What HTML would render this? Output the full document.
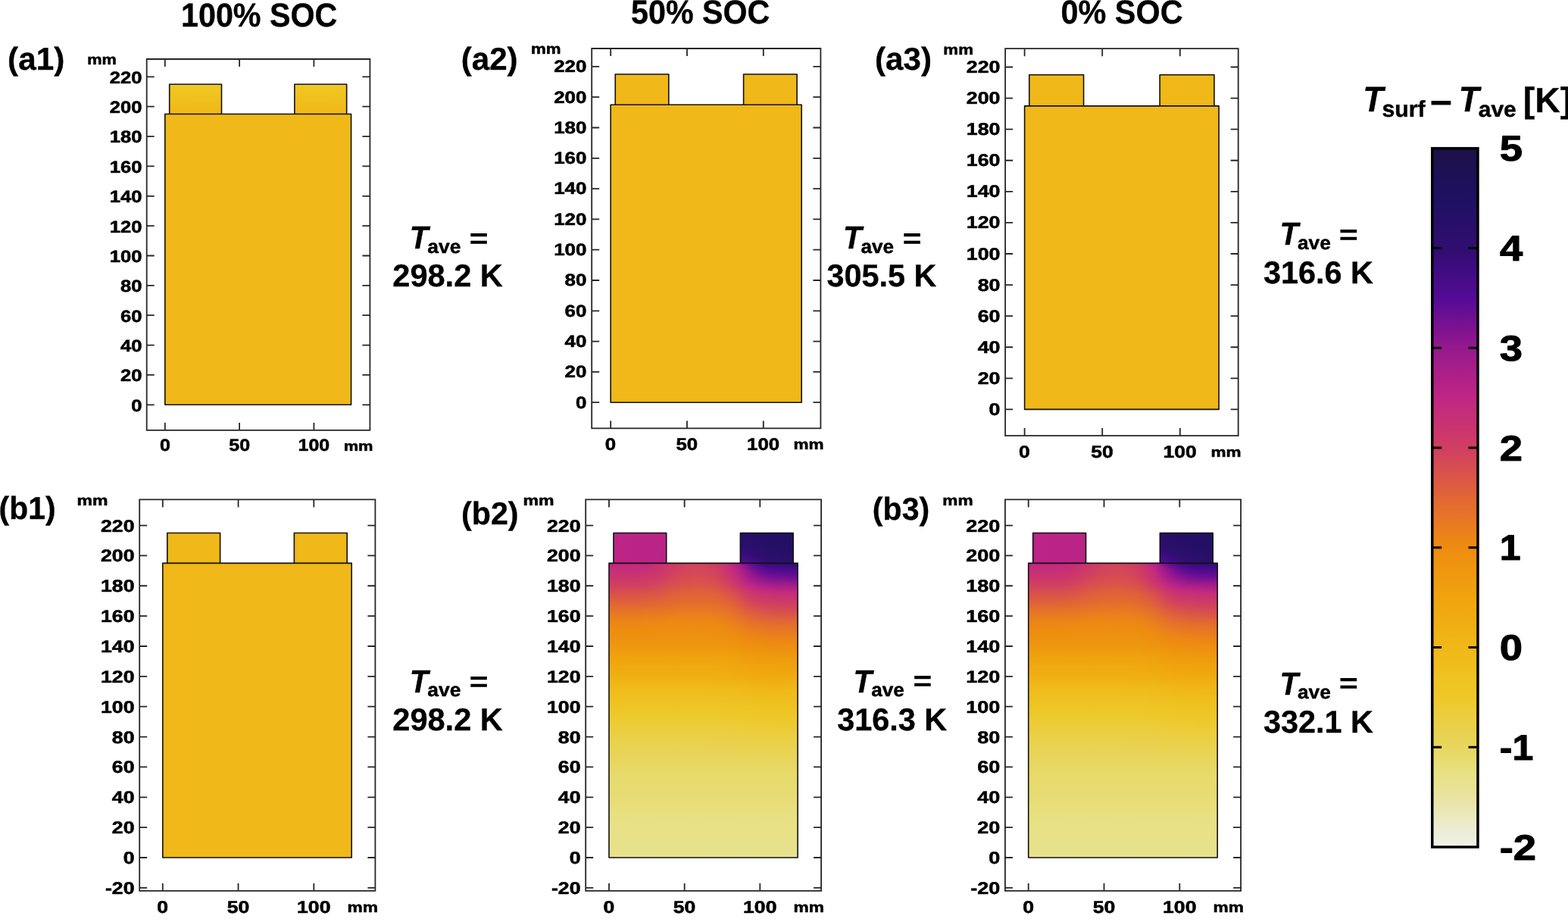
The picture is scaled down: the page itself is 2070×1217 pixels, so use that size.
<!DOCTYPE html>
<html lang="en">
<head>
<meta charset="utf-8">
<title>Surface temperature deviation at 100%, 50% and 0% SOC</title>
<style>
html,body{margin:0;padding:0;background:#fff;}
body{width:2070px;height:1217px;overflow:hidden;}
svg{display:block;font-family:"Liberation Sans", sans-serif;font-weight:bold;fill:#000;text-rendering:geometricPrecision;}
text{white-space:pre;}
</style>
</head>
<body>
<svg width="2070" height="1217" viewBox="0 0 2070 1217">
<defs>
<linearGradient id="g0" x2="0" y2="1"><stop offset="0.000" stop-color="#c12782"/><stop offset="0.025" stop-color="#c62f78"/><stop offset="0.050" stop-color="#cb376c"/><stop offset="0.075" stop-color="#d14060"/><stop offset="0.100" stop-color="#d8504e"/><stop offset="0.125" stop-color="#de5c3f"/><stop offset="0.150" stop-color="#e46c2f"/><stop offset="0.175" stop-color="#e87a21"/><stop offset="0.200" stop-color="#ec8516"/><stop offset="0.225" stop-color="#ee8c10"/><stop offset="0.250" stop-color="#ee9010"/><stop offset="0.275" stop-color="#ef960f"/><stop offset="0.300" stop-color="#ef9d0f"/><stop offset="0.325" stop-color="#f0a40e"/><stop offset="0.350" stop-color="#f0a910"/><stop offset="0.375" stop-color="#f0ad13"/><stop offset="0.400" stop-color="#f0b416"/><stop offset="0.425" stop-color="#f0bb1b"/><stop offset="0.450" stop-color="#efbf1f"/><stop offset="0.475" stop-color="#efc323"/><stop offset="0.500" stop-color="#eec727"/><stop offset="0.525" stop-color="#edca2f"/><stop offset="0.550" stop-color="#eccc39"/><stop offset="0.575" stop-color="#ebcf42"/><stop offset="0.600" stop-color="#ead14a"/><stop offset="0.625" stop-color="#e9d351"/><stop offset="0.650" stop-color="#e9d458"/><stop offset="0.675" stop-color="#e8d65f"/><stop offset="0.700" stop-color="#e8d866"/><stop offset="0.725" stop-color="#e8da6b"/><stop offset="0.750" stop-color="#e8db6f"/><stop offset="0.775" stop-color="#e8db72"/><stop offset="0.800" stop-color="#e8dc76"/><stop offset="0.825" stop-color="#e8de7a"/><stop offset="0.850" stop-color="#e8df7f"/><stop offset="0.875" stop-color="#e8e083"/><stop offset="0.900" stop-color="#e8e186"/><stop offset="0.925" stop-color="#e8e188"/><stop offset="0.950" stop-color="#e8e18b"/><stop offset="0.975" stop-color="#e8e18c"/><stop offset="1.000" stop-color="#e8e28e"/></linearGradient>
<linearGradient id="g1" x2="0" y2="1"><stop offset="0.000" stop-color="#c12782"/><stop offset="0.025" stop-color="#c62f78"/><stop offset="0.050" stop-color="#cb376c"/><stop offset="0.075" stop-color="#d14060"/><stop offset="0.100" stop-color="#d8504e"/><stop offset="0.125" stop-color="#de5c3f"/><stop offset="0.150" stop-color="#e46c2f"/><stop offset="0.175" stop-color="#e87a21"/><stop offset="0.200" stop-color="#ec8516"/><stop offset="0.225" stop-color="#ee8c10"/><stop offset="0.250" stop-color="#ee9010"/><stop offset="0.275" stop-color="#ef960f"/><stop offset="0.300" stop-color="#ef9d0f"/><stop offset="0.325" stop-color="#f0a40e"/><stop offset="0.350" stop-color="#f0a910"/><stop offset="0.375" stop-color="#f0ad13"/><stop offset="0.400" stop-color="#f0b416"/><stop offset="0.425" stop-color="#f0bb1b"/><stop offset="0.450" stop-color="#efbf1f"/><stop offset="0.475" stop-color="#efc323"/><stop offset="0.500" stop-color="#eec727"/><stop offset="0.525" stop-color="#edca2f"/><stop offset="0.550" stop-color="#eccc39"/><stop offset="0.575" stop-color="#ebcf42"/><stop offset="0.600" stop-color="#ead14a"/><stop offset="0.625" stop-color="#e9d351"/><stop offset="0.650" stop-color="#e9d458"/><stop offset="0.675" stop-color="#e8d65f"/><stop offset="0.700" stop-color="#e8d866"/><stop offset="0.725" stop-color="#e8da6b"/><stop offset="0.750" stop-color="#e8db6f"/><stop offset="0.775" stop-color="#e8db72"/><stop offset="0.800" stop-color="#e8dc76"/><stop offset="0.825" stop-color="#e8de7a"/><stop offset="0.850" stop-color="#e8df7f"/><stop offset="0.875" stop-color="#e8e083"/><stop offset="0.900" stop-color="#e8e186"/><stop offset="0.925" stop-color="#e8e188"/><stop offset="0.950" stop-color="#e8e18b"/><stop offset="0.975" stop-color="#e8e18c"/><stop offset="1.000" stop-color="#e8e28e"/></linearGradient>
<linearGradient id="g2" x2="0" y2="1"><stop offset="0.000" stop-color="#c12782"/><stop offset="0.025" stop-color="#c62f78"/><stop offset="0.050" stop-color="#cb376c"/><stop offset="0.075" stop-color="#d14060"/><stop offset="0.100" stop-color="#d8504e"/><stop offset="0.125" stop-color="#de5c3f"/><stop offset="0.150" stop-color="#e46c2f"/><stop offset="0.175" stop-color="#e87a21"/><stop offset="0.200" stop-color="#ec8516"/><stop offset="0.225" stop-color="#ee8c10"/><stop offset="0.250" stop-color="#ee9010"/><stop offset="0.275" stop-color="#ef960f"/><stop offset="0.300" stop-color="#ef9d0f"/><stop offset="0.325" stop-color="#f0a40e"/><stop offset="0.350" stop-color="#f0a910"/><stop offset="0.375" stop-color="#f0ad13"/><stop offset="0.400" stop-color="#f0b416"/><stop offset="0.425" stop-color="#f0bb1b"/><stop offset="0.450" stop-color="#efbf1f"/><stop offset="0.475" stop-color="#efc323"/><stop offset="0.500" stop-color="#eec727"/><stop offset="0.525" stop-color="#edca2f"/><stop offset="0.550" stop-color="#eccc39"/><stop offset="0.575" stop-color="#ebcf42"/><stop offset="0.600" stop-color="#ead14a"/><stop offset="0.625" stop-color="#e9d351"/><stop offset="0.650" stop-color="#e9d458"/><stop offset="0.675" stop-color="#e8d65f"/><stop offset="0.700" stop-color="#e8d866"/><stop offset="0.725" stop-color="#e8da6b"/><stop offset="0.750" stop-color="#e8db6f"/><stop offset="0.775" stop-color="#e8db72"/><stop offset="0.800" stop-color="#e8dc76"/><stop offset="0.825" stop-color="#e8de7a"/><stop offset="0.850" stop-color="#e8df7f"/><stop offset="0.875" stop-color="#e8e083"/><stop offset="0.900" stop-color="#e8e186"/><stop offset="0.925" stop-color="#e8e188"/><stop offset="0.950" stop-color="#e8e18b"/><stop offset="0.975" stop-color="#e8e18c"/><stop offset="1.000" stop-color="#e8e28e"/></linearGradient>
<linearGradient id="g3" x2="0" y2="1"><stop offset="0.000" stop-color="#c12782"/><stop offset="0.025" stop-color="#c62f78"/><stop offset="0.050" stop-color="#cb376c"/><stop offset="0.075" stop-color="#d14060"/><stop offset="0.100" stop-color="#d8504e"/><stop offset="0.125" stop-color="#de5c3f"/><stop offset="0.150" stop-color="#e46c2f"/><stop offset="0.175" stop-color="#e87a21"/><stop offset="0.200" stop-color="#ec8516"/><stop offset="0.225" stop-color="#ee8c10"/><stop offset="0.250" stop-color="#ee9010"/><stop offset="0.275" stop-color="#ef960f"/><stop offset="0.300" stop-color="#ef9d0f"/><stop offset="0.325" stop-color="#f0a40e"/><stop offset="0.350" stop-color="#f0a910"/><stop offset="0.375" stop-color="#f0ad13"/><stop offset="0.400" stop-color="#f0b416"/><stop offset="0.425" stop-color="#f0bb1b"/><stop offset="0.450" stop-color="#efbf1f"/><stop offset="0.475" stop-color="#efc323"/><stop offset="0.500" stop-color="#eec727"/><stop offset="0.525" stop-color="#edca2f"/><stop offset="0.550" stop-color="#eccc39"/><stop offset="0.575" stop-color="#ebcf42"/><stop offset="0.600" stop-color="#ead14a"/><stop offset="0.625" stop-color="#e9d351"/><stop offset="0.650" stop-color="#e9d458"/><stop offset="0.675" stop-color="#e8d65f"/><stop offset="0.700" stop-color="#e8d866"/><stop offset="0.725" stop-color="#e8da6b"/><stop offset="0.750" stop-color="#e8db6f"/><stop offset="0.775" stop-color="#e8db72"/><stop offset="0.800" stop-color="#e8dc76"/><stop offset="0.825" stop-color="#e8de7a"/><stop offset="0.850" stop-color="#e8df7f"/><stop offset="0.875" stop-color="#e8e083"/><stop offset="0.900" stop-color="#e8e186"/><stop offset="0.925" stop-color="#e8e188"/><stop offset="0.950" stop-color="#e8e18b"/><stop offset="0.975" stop-color="#e8e18c"/><stop offset="1.000" stop-color="#e8e28e"/></linearGradient>
<linearGradient id="g4" x2="0" y2="1"><stop offset="0.000" stop-color="#c12782"/><stop offset="0.025" stop-color="#c62f78"/><stop offset="0.050" stop-color="#cb376c"/><stop offset="0.075" stop-color="#d14060"/><stop offset="0.100" stop-color="#d8504e"/><stop offset="0.125" stop-color="#de5c3f"/><stop offset="0.150" stop-color="#e46c2f"/><stop offset="0.175" stop-color="#e87a21"/><stop offset="0.200" stop-color="#ec8516"/><stop offset="0.225" stop-color="#ee8c10"/><stop offset="0.250" stop-color="#ee9010"/><stop offset="0.275" stop-color="#ef960f"/><stop offset="0.300" stop-color="#ef9d0f"/><stop offset="0.325" stop-color="#f0a40e"/><stop offset="0.350" stop-color="#f0a910"/><stop offset="0.375" stop-color="#f0ad13"/><stop offset="0.400" stop-color="#f0b416"/><stop offset="0.425" stop-color="#f0bb1b"/><stop offset="0.450" stop-color="#efbf1f"/><stop offset="0.475" stop-color="#efc323"/><stop offset="0.500" stop-color="#eec727"/><stop offset="0.525" stop-color="#edca2f"/><stop offset="0.550" stop-color="#eccc39"/><stop offset="0.575" stop-color="#ebcf42"/><stop offset="0.600" stop-color="#ead14a"/><stop offset="0.625" stop-color="#e9d351"/><stop offset="0.650" stop-color="#e9d458"/><stop offset="0.675" stop-color="#e8d65f"/><stop offset="0.700" stop-color="#e8d866"/><stop offset="0.725" stop-color="#e8da6b"/><stop offset="0.750" stop-color="#e8db6f"/><stop offset="0.775" stop-color="#e8db72"/><stop offset="0.800" stop-color="#e8dc76"/><stop offset="0.825" stop-color="#e8de7a"/><stop offset="0.850" stop-color="#e8df7f"/><stop offset="0.875" stop-color="#e8e083"/><stop offset="0.900" stop-color="#e8e186"/><stop offset="0.925" stop-color="#e8e188"/><stop offset="0.950" stop-color="#e8e18b"/><stop offset="0.975" stop-color="#e8e18c"/><stop offset="1.000" stop-color="#e8e28e"/></linearGradient>
<linearGradient id="g5" x2="0" y2="1"><stop offset="0.000" stop-color="#c12782"/><stop offset="0.025" stop-color="#c62f78"/><stop offset="0.050" stop-color="#cb376c"/><stop offset="0.075" stop-color="#d14060"/><stop offset="0.100" stop-color="#d8504e"/><stop offset="0.125" stop-color="#de5c3f"/><stop offset="0.150" stop-color="#e46c2f"/><stop offset="0.175" stop-color="#e87a21"/><stop offset="0.200" stop-color="#ec8516"/><stop offset="0.225" stop-color="#ee8c10"/><stop offset="0.250" stop-color="#ee9010"/><stop offset="0.275" stop-color="#ef960f"/><stop offset="0.300" stop-color="#ef9d0f"/><stop offset="0.325" stop-color="#f0a40e"/><stop offset="0.350" stop-color="#f0a910"/><stop offset="0.375" stop-color="#f0ad13"/><stop offset="0.400" stop-color="#f0b416"/><stop offset="0.425" stop-color="#f0bb1b"/><stop offset="0.450" stop-color="#efbf1f"/><stop offset="0.475" stop-color="#efc323"/><stop offset="0.500" stop-color="#eec727"/><stop offset="0.525" stop-color="#edca2f"/><stop offset="0.550" stop-color="#eccc39"/><stop offset="0.575" stop-color="#ebcf42"/><stop offset="0.600" stop-color="#ead14a"/><stop offset="0.625" stop-color="#e9d351"/><stop offset="0.650" stop-color="#e9d458"/><stop offset="0.675" stop-color="#e8d65f"/><stop offset="0.700" stop-color="#e8d866"/><stop offset="0.725" stop-color="#e8da6b"/><stop offset="0.750" stop-color="#e8db6f"/><stop offset="0.775" stop-color="#e8db72"/><stop offset="0.800" stop-color="#e8dc76"/><stop offset="0.825" stop-color="#e8de7a"/><stop offset="0.850" stop-color="#e8df7f"/><stop offset="0.875" stop-color="#e8e083"/><stop offset="0.900" stop-color="#e8e186"/><stop offset="0.925" stop-color="#e8e188"/><stop offset="0.950" stop-color="#e8e18b"/><stop offset="0.975" stop-color="#e8e18c"/><stop offset="1.000" stop-color="#e8e28e"/></linearGradient>
<linearGradient id="g6" x2="0" y2="1"><stop offset="0.000" stop-color="#c12782"/><stop offset="0.025" stop-color="#c62f78"/><stop offset="0.050" stop-color="#cb376c"/><stop offset="0.075" stop-color="#d14060"/><stop offset="0.100" stop-color="#d8504e"/><stop offset="0.125" stop-color="#de5c3f"/><stop offset="0.150" stop-color="#e46c2f"/><stop offset="0.175" stop-color="#e87a21"/><stop offset="0.200" stop-color="#ec8516"/><stop offset="0.225" stop-color="#ee8c10"/><stop offset="0.250" stop-color="#ee9010"/><stop offset="0.275" stop-color="#ef960f"/><stop offset="0.300" stop-color="#ef9d0f"/><stop offset="0.325" stop-color="#f0a40e"/><stop offset="0.350" stop-color="#f0a910"/><stop offset="0.375" stop-color="#f0ad13"/><stop offset="0.400" stop-color="#f0b416"/><stop offset="0.425" stop-color="#f0bb1b"/><stop offset="0.450" stop-color="#efbf1f"/><stop offset="0.475" stop-color="#efc323"/><stop offset="0.500" stop-color="#eec727"/><stop offset="0.525" stop-color="#edca2f"/><stop offset="0.550" stop-color="#eccc39"/><stop offset="0.575" stop-color="#ebcf42"/><stop offset="0.600" stop-color="#ead14a"/><stop offset="0.625" stop-color="#e9d351"/><stop offset="0.650" stop-color="#e9d458"/><stop offset="0.675" stop-color="#e8d65f"/><stop offset="0.700" stop-color="#e8d866"/><stop offset="0.725" stop-color="#e8da6b"/><stop offset="0.750" stop-color="#e8db6f"/><stop offset="0.775" stop-color="#e8db72"/><stop offset="0.800" stop-color="#e8dc76"/><stop offset="0.825" stop-color="#e8de7a"/><stop offset="0.850" stop-color="#e8df7f"/><stop offset="0.875" stop-color="#e8e083"/><stop offset="0.900" stop-color="#e8e186"/><stop offset="0.925" stop-color="#e8e188"/><stop offset="0.950" stop-color="#e8e18b"/><stop offset="0.975" stop-color="#e8e18c"/><stop offset="1.000" stop-color="#e8e28e"/></linearGradient>
<linearGradient id="g7" x2="0" y2="1"><stop offset="0.000" stop-color="#c12782"/><stop offset="0.025" stop-color="#c62f78"/><stop offset="0.050" stop-color="#cb376c"/><stop offset="0.075" stop-color="#d14060"/><stop offset="0.100" stop-color="#d8504e"/><stop offset="0.125" stop-color="#de5c3f"/><stop offset="0.150" stop-color="#e46c2f"/><stop offset="0.175" stop-color="#e87a21"/><stop offset="0.200" stop-color="#ec8516"/><stop offset="0.225" stop-color="#ee8c10"/><stop offset="0.250" stop-color="#ee9010"/><stop offset="0.275" stop-color="#ef960f"/><stop offset="0.300" stop-color="#ef9d0f"/><stop offset="0.325" stop-color="#f0a40e"/><stop offset="0.350" stop-color="#f0a910"/><stop offset="0.375" stop-color="#f0ad13"/><stop offset="0.400" stop-color="#f0b416"/><stop offset="0.425" stop-color="#f0bb1b"/><stop offset="0.450" stop-color="#efbf1f"/><stop offset="0.475" stop-color="#efc323"/><stop offset="0.500" stop-color="#eec727"/><stop offset="0.525" stop-color="#edca2f"/><stop offset="0.550" stop-color="#eccc39"/><stop offset="0.575" stop-color="#ebcf42"/><stop offset="0.600" stop-color="#ead14a"/><stop offset="0.625" stop-color="#e9d351"/><stop offset="0.650" stop-color="#e9d458"/><stop offset="0.675" stop-color="#e8d65f"/><stop offset="0.700" stop-color="#e8d866"/><stop offset="0.725" stop-color="#e8da6b"/><stop offset="0.750" stop-color="#e8db6f"/><stop offset="0.775" stop-color="#e8db72"/><stop offset="0.800" stop-color="#e8dc76"/><stop offset="0.825" stop-color="#e8de7a"/><stop offset="0.850" stop-color="#e8df7f"/><stop offset="0.875" stop-color="#e8e083"/><stop offset="0.900" stop-color="#e8e186"/><stop offset="0.925" stop-color="#e8e188"/><stop offset="0.950" stop-color="#e8e18b"/><stop offset="0.975" stop-color="#e8e18c"/><stop offset="1.000" stop-color="#e8e28e"/></linearGradient>
<linearGradient id="g8" x2="0" y2="1"><stop offset="0.000" stop-color="#c12882"/><stop offset="0.025" stop-color="#c62f77"/><stop offset="0.050" stop-color="#cb376c"/><stop offset="0.075" stop-color="#d1405f"/><stop offset="0.100" stop-color="#d8504d"/><stop offset="0.125" stop-color="#de5d3f"/><stop offset="0.150" stop-color="#e46c2f"/><stop offset="0.175" stop-color="#e87a21"/><stop offset="0.200" stop-color="#ec8516"/><stop offset="0.225" stop-color="#ee8c10"/><stop offset="0.250" stop-color="#ee9010"/><stop offset="0.275" stop-color="#ef960f"/><stop offset="0.300" stop-color="#ef9d0f"/><stop offset="0.325" stop-color="#f0a40e"/><stop offset="0.350" stop-color="#f0a910"/><stop offset="0.375" stop-color="#f0ad13"/><stop offset="0.400" stop-color="#f0b416"/><stop offset="0.425" stop-color="#f0bb1b"/><stop offset="0.450" stop-color="#efbf1f"/><stop offset="0.475" stop-color="#efc323"/><stop offset="0.500" stop-color="#eec727"/><stop offset="0.525" stop-color="#edca2f"/><stop offset="0.550" stop-color="#eccc39"/><stop offset="0.575" stop-color="#ebcf42"/><stop offset="0.600" stop-color="#ead14a"/><stop offset="0.625" stop-color="#e9d351"/><stop offset="0.650" stop-color="#e9d458"/><stop offset="0.675" stop-color="#e8d65f"/><stop offset="0.700" stop-color="#e8d866"/><stop offset="0.725" stop-color="#e8da6b"/><stop offset="0.750" stop-color="#e8db6f"/><stop offset="0.775" stop-color="#e8db72"/><stop offset="0.800" stop-color="#e8dc76"/><stop offset="0.825" stop-color="#e8de7a"/><stop offset="0.850" stop-color="#e8df7f"/><stop offset="0.875" stop-color="#e8e083"/><stop offset="0.900" stop-color="#e8e186"/><stop offset="0.925" stop-color="#e8e188"/><stop offset="0.950" stop-color="#e8e18b"/><stop offset="0.975" stop-color="#e8e18c"/><stop offset="1.000" stop-color="#e8e28e"/></linearGradient>
<linearGradient id="g9" x2="0" y2="1"><stop offset="0.000" stop-color="#c22980"/><stop offset="0.025" stop-color="#c73076"/><stop offset="0.050" stop-color="#cc386b"/><stop offset="0.075" stop-color="#d1415e"/><stop offset="0.100" stop-color="#d8514c"/><stop offset="0.125" stop-color="#de5d3e"/><stop offset="0.150" stop-color="#e46c2e"/><stop offset="0.175" stop-color="#e87b21"/><stop offset="0.200" stop-color="#ec8616"/><stop offset="0.225" stop-color="#ee8c10"/><stop offset="0.250" stop-color="#ee9010"/><stop offset="0.275" stop-color="#ef960f"/><stop offset="0.300" stop-color="#ef9d0f"/><stop offset="0.325" stop-color="#f0a40e"/><stop offset="0.350" stop-color="#f0a910"/><stop offset="0.375" stop-color="#f0ad13"/><stop offset="0.400" stop-color="#f0b416"/><stop offset="0.425" stop-color="#f0bb1b"/><stop offset="0.450" stop-color="#efbf1f"/><stop offset="0.475" stop-color="#efc323"/><stop offset="0.500" stop-color="#eec727"/><stop offset="0.525" stop-color="#edca2f"/><stop offset="0.550" stop-color="#eccc39"/><stop offset="0.575" stop-color="#ebcf42"/><stop offset="0.600" stop-color="#ead14a"/><stop offset="0.625" stop-color="#e9d351"/><stop offset="0.650" stop-color="#e9d458"/><stop offset="0.675" stop-color="#e8d65f"/><stop offset="0.700" stop-color="#e8d866"/><stop offset="0.725" stop-color="#e8da6b"/><stop offset="0.750" stop-color="#e8db6f"/><stop offset="0.775" stop-color="#e8db72"/><stop offset="0.800" stop-color="#e8dc76"/><stop offset="0.825" stop-color="#e8de7a"/><stop offset="0.850" stop-color="#e8df7f"/><stop offset="0.875" stop-color="#e8e083"/><stop offset="0.900" stop-color="#e8e186"/><stop offset="0.925" stop-color="#e8e188"/><stop offset="0.950" stop-color="#e8e18b"/><stop offset="0.975" stop-color="#e8e18c"/><stop offset="1.000" stop-color="#e8e28e"/></linearGradient>
<linearGradient id="g10" x2="0" y2="1"><stop offset="0.000" stop-color="#c32a7e"/><stop offset="0.025" stop-color="#c73174"/><stop offset="0.050" stop-color="#cc396a"/><stop offset="0.075" stop-color="#d2425d"/><stop offset="0.100" stop-color="#d9524b"/><stop offset="0.125" stop-color="#de5e3d"/><stop offset="0.150" stop-color="#e46d2e"/><stop offset="0.175" stop-color="#e97b20"/><stop offset="0.200" stop-color="#ec8616"/><stop offset="0.225" stop-color="#ee8c10"/><stop offset="0.250" stop-color="#ee9010"/><stop offset="0.275" stop-color="#ef960f"/><stop offset="0.300" stop-color="#ef9d0f"/><stop offset="0.325" stop-color="#f0a40e"/><stop offset="0.350" stop-color="#f0a910"/><stop offset="0.375" stop-color="#f0ad13"/><stop offset="0.400" stop-color="#f0b416"/><stop offset="0.425" stop-color="#f0bb1b"/><stop offset="0.450" stop-color="#efbf1f"/><stop offset="0.475" stop-color="#efc323"/><stop offset="0.500" stop-color="#eec727"/><stop offset="0.525" stop-color="#edca2f"/><stop offset="0.550" stop-color="#eccc39"/><stop offset="0.575" stop-color="#ebcf42"/><stop offset="0.600" stop-color="#ead14a"/><stop offset="0.625" stop-color="#e9d351"/><stop offset="0.650" stop-color="#e9d458"/><stop offset="0.675" stop-color="#e8d65f"/><stop offset="0.700" stop-color="#e8d866"/><stop offset="0.725" stop-color="#e8da6b"/><stop offset="0.750" stop-color="#e8db6f"/><stop offset="0.775" stop-color="#e8db72"/><stop offset="0.800" stop-color="#e8dc76"/><stop offset="0.825" stop-color="#e8de7a"/><stop offset="0.850" stop-color="#e8df7f"/><stop offset="0.875" stop-color="#e8e083"/><stop offset="0.900" stop-color="#e8e186"/><stop offset="0.925" stop-color="#e8e188"/><stop offset="0.950" stop-color="#e8e18b"/><stop offset="0.975" stop-color="#e8e18c"/><stop offset="1.000" stop-color="#e8e28e"/></linearGradient>
<linearGradient id="g11" x2="0" y2="1"><stop offset="0.000" stop-color="#c42c7c"/><stop offset="0.025" stop-color="#c83273"/><stop offset="0.050" stop-color="#cd3a68"/><stop offset="0.075" stop-color="#d3445c"/><stop offset="0.100" stop-color="#d9534a"/><stop offset="0.125" stop-color="#df5f3c"/><stop offset="0.150" stop-color="#e46d2d"/><stop offset="0.175" stop-color="#e97b20"/><stop offset="0.200" stop-color="#ec8616"/><stop offset="0.225" stop-color="#ee8d10"/><stop offset="0.250" stop-color="#ee9010"/><stop offset="0.275" stop-color="#ef960f"/><stop offset="0.300" stop-color="#ef9d0f"/><stop offset="0.325" stop-color="#f0a40e"/><stop offset="0.350" stop-color="#f0a910"/><stop offset="0.375" stop-color="#f0ad13"/><stop offset="0.400" stop-color="#f0b416"/><stop offset="0.425" stop-color="#f0bb1b"/><stop offset="0.450" stop-color="#efbf1f"/><stop offset="0.475" stop-color="#efc323"/><stop offset="0.500" stop-color="#eec727"/><stop offset="0.525" stop-color="#edca2f"/><stop offset="0.550" stop-color="#eccc39"/><stop offset="0.575" stop-color="#ebcf42"/><stop offset="0.600" stop-color="#ead14a"/><stop offset="0.625" stop-color="#e9d351"/><stop offset="0.650" stop-color="#e9d458"/><stop offset="0.675" stop-color="#e8d65f"/><stop offset="0.700" stop-color="#e8d866"/><stop offset="0.725" stop-color="#e8da6b"/><stop offset="0.750" stop-color="#e8db6f"/><stop offset="0.775" stop-color="#e8db72"/><stop offset="0.800" stop-color="#e8dc76"/><stop offset="0.825" stop-color="#e8de7a"/><stop offset="0.850" stop-color="#e8df7f"/><stop offset="0.875" stop-color="#e8e083"/><stop offset="0.900" stop-color="#e8e186"/><stop offset="0.925" stop-color="#e8e188"/><stop offset="0.950" stop-color="#e8e18b"/><stop offset="0.975" stop-color="#e8e18c"/><stop offset="1.000" stop-color="#e8e28e"/></linearGradient>
<linearGradient id="g12" x2="0" y2="1"><stop offset="0.000" stop-color="#c52e78"/><stop offset="0.025" stop-color="#c93470"/><stop offset="0.050" stop-color="#ce3b66"/><stop offset="0.075" stop-color="#d34659"/><stop offset="0.100" stop-color="#da5448"/><stop offset="0.125" stop-color="#df603b"/><stop offset="0.150" stop-color="#e56e2c"/><stop offset="0.175" stop-color="#e97c1f"/><stop offset="0.200" stop-color="#ec8615"/><stop offset="0.225" stop-color="#ee8d10"/><stop offset="0.250" stop-color="#ee9110"/><stop offset="0.275" stop-color="#ef960f"/><stop offset="0.300" stop-color="#ef9d0f"/><stop offset="0.325" stop-color="#f0a40e"/><stop offset="0.350" stop-color="#f0a910"/><stop offset="0.375" stop-color="#f0ad13"/><stop offset="0.400" stop-color="#f0b416"/><stop offset="0.425" stop-color="#f0bb1b"/><stop offset="0.450" stop-color="#efbf1f"/><stop offset="0.475" stop-color="#efc323"/><stop offset="0.500" stop-color="#eec727"/><stop offset="0.525" stop-color="#edca2f"/><stop offset="0.550" stop-color="#eccc39"/><stop offset="0.575" stop-color="#ebcf42"/><stop offset="0.600" stop-color="#ead14a"/><stop offset="0.625" stop-color="#e9d351"/><stop offset="0.650" stop-color="#e9d458"/><stop offset="0.675" stop-color="#e8d65f"/><stop offset="0.700" stop-color="#e8d866"/><stop offset="0.725" stop-color="#e8da6b"/><stop offset="0.750" stop-color="#e8db6f"/><stop offset="0.775" stop-color="#e8db72"/><stop offset="0.800" stop-color="#e8dc76"/><stop offset="0.825" stop-color="#e8de7a"/><stop offset="0.850" stop-color="#e8df7f"/><stop offset="0.875" stop-color="#e8e083"/><stop offset="0.900" stop-color="#e8e186"/><stop offset="0.925" stop-color="#e8e188"/><stop offset="0.950" stop-color="#e8e18b"/><stop offset="0.975" stop-color="#e8e18c"/><stop offset="1.000" stop-color="#e8e28e"/></linearGradient>
<linearGradient id="g13" x2="0" y2="1"><stop offset="0.000" stop-color="#c73175"/><stop offset="0.025" stop-color="#cb366d"/><stop offset="0.050" stop-color="#cf3d64"/><stop offset="0.075" stop-color="#d44857"/><stop offset="0.100" stop-color="#db5646"/><stop offset="0.125" stop-color="#e06139"/><stop offset="0.150" stop-color="#e56f2c"/><stop offset="0.175" stop-color="#e97c1f"/><stop offset="0.200" stop-color="#ec8715"/><stop offset="0.225" stop-color="#ee8d10"/><stop offset="0.250" stop-color="#ee9110"/><stop offset="0.275" stop-color="#ef960f"/><stop offset="0.300" stop-color="#ef9d0f"/><stop offset="0.325" stop-color="#f0a40e"/><stop offset="0.350" stop-color="#f0a910"/><stop offset="0.375" stop-color="#f0ad13"/><stop offset="0.400" stop-color="#f0b416"/><stop offset="0.425" stop-color="#f0bb1b"/><stop offset="0.450" stop-color="#efbf1f"/><stop offset="0.475" stop-color="#efc323"/><stop offset="0.500" stop-color="#eec727"/><stop offset="0.525" stop-color="#edca2f"/><stop offset="0.550" stop-color="#eccc39"/><stop offset="0.575" stop-color="#ebcf42"/><stop offset="0.600" stop-color="#ead14a"/><stop offset="0.625" stop-color="#e9d351"/><stop offset="0.650" stop-color="#e9d458"/><stop offset="0.675" stop-color="#e8d65f"/><stop offset="0.700" stop-color="#e8d866"/><stop offset="0.725" stop-color="#e8da6b"/><stop offset="0.750" stop-color="#e8db6f"/><stop offset="0.775" stop-color="#e8db72"/><stop offset="0.800" stop-color="#e8dc76"/><stop offset="0.825" stop-color="#e8de7a"/><stop offset="0.850" stop-color="#e8df7f"/><stop offset="0.875" stop-color="#e8e083"/><stop offset="0.900" stop-color="#e8e186"/><stop offset="0.925" stop-color="#e8e188"/><stop offset="0.950" stop-color="#e8e18b"/><stop offset="0.975" stop-color="#e8e18c"/><stop offset="1.000" stop-color="#e8e28e"/></linearGradient>
<linearGradient id="g14" x2="0" y2="1"><stop offset="0.000" stop-color="#c93470"/><stop offset="0.025" stop-color="#cc396a"/><stop offset="0.050" stop-color="#d13f61"/><stop offset="0.075" stop-color="#d64a54"/><stop offset="0.100" stop-color="#dc5844"/><stop offset="0.125" stop-color="#e16337"/><stop offset="0.150" stop-color="#e5702b"/><stop offset="0.175" stop-color="#e97d1e"/><stop offset="0.200" stop-color="#ec8715"/><stop offset="0.225" stop-color="#ee8d10"/><stop offset="0.250" stop-color="#ee9110"/><stop offset="0.275" stop-color="#ef960f"/><stop offset="0.300" stop-color="#ef9d0f"/><stop offset="0.325" stop-color="#f0a40e"/><stop offset="0.350" stop-color="#f0a910"/><stop offset="0.375" stop-color="#f0ad13"/><stop offset="0.400" stop-color="#f0b416"/><stop offset="0.425" stop-color="#f0bb1b"/><stop offset="0.450" stop-color="#efbf1f"/><stop offset="0.475" stop-color="#efc323"/><stop offset="0.500" stop-color="#eec727"/><stop offset="0.525" stop-color="#edca2f"/><stop offset="0.550" stop-color="#eccc39"/><stop offset="0.575" stop-color="#ebcf42"/><stop offset="0.600" stop-color="#ead14a"/><stop offset="0.625" stop-color="#e9d351"/><stop offset="0.650" stop-color="#e9d458"/><stop offset="0.675" stop-color="#e8d65f"/><stop offset="0.700" stop-color="#e8d866"/><stop offset="0.725" stop-color="#e8da6b"/><stop offset="0.750" stop-color="#e8db6f"/><stop offset="0.775" stop-color="#e8db72"/><stop offset="0.800" stop-color="#e8dc76"/><stop offset="0.825" stop-color="#e8de7a"/><stop offset="0.850" stop-color="#e8df7f"/><stop offset="0.875" stop-color="#e8e083"/><stop offset="0.900" stop-color="#e8e186"/><stop offset="0.925" stop-color="#e8e188"/><stop offset="0.950" stop-color="#e8e18b"/><stop offset="0.975" stop-color="#e8e18c"/><stop offset="1.000" stop-color="#e8e28e"/></linearGradient>
<linearGradient id="g15" x2="0" y2="1"><stop offset="0.000" stop-color="#cb376c"/><stop offset="0.025" stop-color="#ce3b66"/><stop offset="0.050" stop-color="#d2425d"/><stop offset="0.075" stop-color="#d74d51"/><stop offset="0.100" stop-color="#dd5a41"/><stop offset="0.125" stop-color="#e16536"/><stop offset="0.150" stop-color="#e5712a"/><stop offset="0.175" stop-color="#e97d1e"/><stop offset="0.200" stop-color="#ed8714"/><stop offset="0.225" stop-color="#ee8d10"/><stop offset="0.250" stop-color="#ee9110"/><stop offset="0.275" stop-color="#ef960f"/><stop offset="0.300" stop-color="#ef9d0f"/><stop offset="0.325" stop-color="#f0a40e"/><stop offset="0.350" stop-color="#f0a910"/><stop offset="0.375" stop-color="#f0ad13"/><stop offset="0.400" stop-color="#f0b416"/><stop offset="0.425" stop-color="#f0bb1b"/><stop offset="0.450" stop-color="#efbf1f"/><stop offset="0.475" stop-color="#efc323"/><stop offset="0.500" stop-color="#eec727"/><stop offset="0.525" stop-color="#edca2f"/><stop offset="0.550" stop-color="#eccc39"/><stop offset="0.575" stop-color="#ebcf42"/><stop offset="0.600" stop-color="#ead14a"/><stop offset="0.625" stop-color="#e9d351"/><stop offset="0.650" stop-color="#e9d458"/><stop offset="0.675" stop-color="#e8d65f"/><stop offset="0.700" stop-color="#e8d866"/><stop offset="0.725" stop-color="#e8da6b"/><stop offset="0.750" stop-color="#e8db6f"/><stop offset="0.775" stop-color="#e8db72"/><stop offset="0.800" stop-color="#e8dc76"/><stop offset="0.825" stop-color="#e8de7a"/><stop offset="0.850" stop-color="#e8df7f"/><stop offset="0.875" stop-color="#e8e083"/><stop offset="0.900" stop-color="#e8e186"/><stop offset="0.925" stop-color="#e8e188"/><stop offset="0.950" stop-color="#e8e18b"/><stop offset="0.975" stop-color="#e8e18c"/><stop offset="1.000" stop-color="#e8e28e"/></linearGradient>
<linearGradient id="g16" x2="0" y2="1"><stop offset="0.000" stop-color="#cd3968"/><stop offset="0.025" stop-color="#cf3d63"/><stop offset="0.050" stop-color="#d3455a"/><stop offset="0.075" stop-color="#d84f4f"/><stop offset="0.100" stop-color="#de5c3f"/><stop offset="0.125" stop-color="#e26634"/><stop offset="0.150" stop-color="#e67229"/><stop offset="0.175" stop-color="#ea7e1d"/><stop offset="0.200" stop-color="#ed8814"/><stop offset="0.225" stop-color="#ee8d10"/><stop offset="0.250" stop-color="#ee9110"/><stop offset="0.275" stop-color="#ef960f"/><stop offset="0.300" stop-color="#ef9d0f"/><stop offset="0.325" stop-color="#f0a40e"/><stop offset="0.350" stop-color="#f0a910"/><stop offset="0.375" stop-color="#f0ad13"/><stop offset="0.400" stop-color="#f0b416"/><stop offset="0.425" stop-color="#f0bb1b"/><stop offset="0.450" stop-color="#efbf1f"/><stop offset="0.475" stop-color="#efc323"/><stop offset="0.500" stop-color="#eec727"/><stop offset="0.525" stop-color="#edca2f"/><stop offset="0.550" stop-color="#eccc39"/><stop offset="0.575" stop-color="#ebcf42"/><stop offset="0.600" stop-color="#ead14a"/><stop offset="0.625" stop-color="#e9d351"/><stop offset="0.650" stop-color="#e9d458"/><stop offset="0.675" stop-color="#e8d65f"/><stop offset="0.700" stop-color="#e8d866"/><stop offset="0.725" stop-color="#e8da6b"/><stop offset="0.750" stop-color="#e8db6f"/><stop offset="0.775" stop-color="#e8db72"/><stop offset="0.800" stop-color="#e8dc76"/><stop offset="0.825" stop-color="#e8de7a"/><stop offset="0.850" stop-color="#e8df7f"/><stop offset="0.875" stop-color="#e8e083"/><stop offset="0.900" stop-color="#e8e186"/><stop offset="0.925" stop-color="#e8e188"/><stop offset="0.950" stop-color="#e8e18b"/><stop offset="0.975" stop-color="#e8e18c"/><stop offset="1.000" stop-color="#e8e28e"/></linearGradient>
<linearGradient id="g17" x2="0" y2="1"><stop offset="0.000" stop-color="#ce3c65"/><stop offset="0.025" stop-color="#d03f61"/><stop offset="0.050" stop-color="#d44758"/><stop offset="0.075" stop-color="#d8514c"/><stop offset="0.100" stop-color="#de5d3e"/><stop offset="0.125" stop-color="#e26733"/><stop offset="0.150" stop-color="#e67228"/><stop offset="0.175" stop-color="#ea7e1d"/><stop offset="0.200" stop-color="#ed8814"/><stop offset="0.225" stop-color="#ee8d10"/><stop offset="0.250" stop-color="#ee9110"/><stop offset="0.275" stop-color="#ef960f"/><stop offset="0.300" stop-color="#ef9d0f"/><stop offset="0.325" stop-color="#f0a40e"/><stop offset="0.350" stop-color="#f0a910"/><stop offset="0.375" stop-color="#f0ad13"/><stop offset="0.400" stop-color="#f0b416"/><stop offset="0.425" stop-color="#f0bb1b"/><stop offset="0.450" stop-color="#efbf1f"/><stop offset="0.475" stop-color="#efc323"/><stop offset="0.500" stop-color="#eec727"/><stop offset="0.525" stop-color="#edca2f"/><stop offset="0.550" stop-color="#eccc39"/><stop offset="0.575" stop-color="#ebcf42"/><stop offset="0.600" stop-color="#ead14a"/><stop offset="0.625" stop-color="#e9d351"/><stop offset="0.650" stop-color="#e9d458"/><stop offset="0.675" stop-color="#e8d65f"/><stop offset="0.700" stop-color="#e8d866"/><stop offset="0.725" stop-color="#e8da6b"/><stop offset="0.750" stop-color="#e8db6f"/><stop offset="0.775" stop-color="#e8db72"/><stop offset="0.800" stop-color="#e8dc76"/><stop offset="0.825" stop-color="#e8de7a"/><stop offset="0.850" stop-color="#e8df7f"/><stop offset="0.875" stop-color="#e8e083"/><stop offset="0.900" stop-color="#e8e186"/><stop offset="0.925" stop-color="#e8e188"/><stop offset="0.950" stop-color="#e8e18b"/><stop offset="0.975" stop-color="#e8e18c"/><stop offset="1.000" stop-color="#e8e28e"/></linearGradient>
<linearGradient id="g18" x2="0" y2="1"><stop offset="0.000" stop-color="#d03e63"/><stop offset="0.025" stop-color="#d2425e"/><stop offset="0.050" stop-color="#d54955"/><stop offset="0.075" stop-color="#d9524b"/><stop offset="0.100" stop-color="#df5f3c"/><stop offset="0.125" stop-color="#e36832"/><stop offset="0.150" stop-color="#e67328"/><stop offset="0.175" stop-color="#ea7f1c"/><stop offset="0.200" stop-color="#ed8814"/><stop offset="0.225" stop-color="#ee8d10"/><stop offset="0.250" stop-color="#ee9110"/><stop offset="0.275" stop-color="#ef960f"/><stop offset="0.300" stop-color="#ef9d0f"/><stop offset="0.325" stop-color="#f0a40e"/><stop offset="0.350" stop-color="#f0a910"/><stop offset="0.375" stop-color="#f0ad13"/><stop offset="0.400" stop-color="#f0b416"/><stop offset="0.425" stop-color="#f0bb1b"/><stop offset="0.450" stop-color="#efbf1f"/><stop offset="0.475" stop-color="#efc323"/><stop offset="0.500" stop-color="#eec727"/><stop offset="0.525" stop-color="#edca2f"/><stop offset="0.550" stop-color="#eccc39"/><stop offset="0.575" stop-color="#ebcf42"/><stop offset="0.600" stop-color="#ead14a"/><stop offset="0.625" stop-color="#e9d351"/><stop offset="0.650" stop-color="#e9d458"/><stop offset="0.675" stop-color="#e8d65f"/><stop offset="0.700" stop-color="#e8d866"/><stop offset="0.725" stop-color="#e8da6b"/><stop offset="0.750" stop-color="#e8db6f"/><stop offset="0.775" stop-color="#e8db72"/><stop offset="0.800" stop-color="#e8dc76"/><stop offset="0.825" stop-color="#e8de7a"/><stop offset="0.850" stop-color="#e8df7f"/><stop offset="0.875" stop-color="#e8e083"/><stop offset="0.900" stop-color="#e8e186"/><stop offset="0.925" stop-color="#e8e188"/><stop offset="0.950" stop-color="#e8e18b"/><stop offset="0.975" stop-color="#e8e18c"/><stop offset="1.000" stop-color="#e8e28e"/></linearGradient>
<linearGradient id="g19" x2="0" y2="1"><stop offset="0.000" stop-color="#d14060"/><stop offset="0.025" stop-color="#d2435c"/><stop offset="0.050" stop-color="#d64a54"/><stop offset="0.075" stop-color="#da5449"/><stop offset="0.100" stop-color="#df603b"/><stop offset="0.125" stop-color="#e36932"/><stop offset="0.150" stop-color="#e67427"/><stop offset="0.175" stop-color="#ea7f1c"/><stop offset="0.200" stop-color="#ed8813"/><stop offset="0.225" stop-color="#ee8e10"/><stop offset="0.250" stop-color="#ee9110"/><stop offset="0.275" stop-color="#ef960f"/><stop offset="0.300" stop-color="#ef9d0f"/><stop offset="0.325" stop-color="#f0a40e"/><stop offset="0.350" stop-color="#f0a910"/><stop offset="0.375" stop-color="#f0ad13"/><stop offset="0.400" stop-color="#f0b416"/><stop offset="0.425" stop-color="#f0bb1b"/><stop offset="0.450" stop-color="#efbf1f"/><stop offset="0.475" stop-color="#efc323"/><stop offset="0.500" stop-color="#eec727"/><stop offset="0.525" stop-color="#edca2f"/><stop offset="0.550" stop-color="#eccc39"/><stop offset="0.575" stop-color="#ebcf42"/><stop offset="0.600" stop-color="#ead14a"/><stop offset="0.625" stop-color="#e9d351"/><stop offset="0.650" stop-color="#e9d458"/><stop offset="0.675" stop-color="#e8d65f"/><stop offset="0.700" stop-color="#e8d866"/><stop offset="0.725" stop-color="#e8da6b"/><stop offset="0.750" stop-color="#e8db6f"/><stop offset="0.775" stop-color="#e8db72"/><stop offset="0.800" stop-color="#e8dc76"/><stop offset="0.825" stop-color="#e8de7a"/><stop offset="0.850" stop-color="#e8df7f"/><stop offset="0.875" stop-color="#e8e083"/><stop offset="0.900" stop-color="#e8e186"/><stop offset="0.925" stop-color="#e8e188"/><stop offset="0.950" stop-color="#e8e18b"/><stop offset="0.975" stop-color="#e8e18c"/><stop offset="1.000" stop-color="#e8e28e"/></linearGradient>
<linearGradient id="g20" x2="0" y2="1"><stop offset="0.000" stop-color="#d2425e"/><stop offset="0.025" stop-color="#d3455a"/><stop offset="0.050" stop-color="#d64c52"/><stop offset="0.075" stop-color="#da5448"/><stop offset="0.100" stop-color="#e0603a"/><stop offset="0.125" stop-color="#e36931"/><stop offset="0.150" stop-color="#e67427"/><stop offset="0.175" stop-color="#ea7f1c"/><stop offset="0.200" stop-color="#ed8913"/><stop offset="0.225" stop-color="#ee8e10"/><stop offset="0.250" stop-color="#ee9110"/><stop offset="0.275" stop-color="#ef960f"/><stop offset="0.300" stop-color="#ef9d0f"/><stop offset="0.325" stop-color="#f0a40e"/><stop offset="0.350" stop-color="#f0a910"/><stop offset="0.375" stop-color="#f0ad13"/><stop offset="0.400" stop-color="#f0b416"/><stop offset="0.425" stop-color="#f0bb1b"/><stop offset="0.450" stop-color="#efbf1f"/><stop offset="0.475" stop-color="#efc323"/><stop offset="0.500" stop-color="#eec727"/><stop offset="0.525" stop-color="#edca2f"/><stop offset="0.550" stop-color="#eccc39"/><stop offset="0.575" stop-color="#ebcf42"/><stop offset="0.600" stop-color="#ead14a"/><stop offset="0.625" stop-color="#e9d351"/><stop offset="0.650" stop-color="#e9d458"/><stop offset="0.675" stop-color="#e8d65f"/><stop offset="0.700" stop-color="#e8d866"/><stop offset="0.725" stop-color="#e8da6b"/><stop offset="0.750" stop-color="#e8db6f"/><stop offset="0.775" stop-color="#e8db72"/><stop offset="0.800" stop-color="#e8dc76"/><stop offset="0.825" stop-color="#e8de7a"/><stop offset="0.850" stop-color="#e8df7f"/><stop offset="0.875" stop-color="#e8e083"/><stop offset="0.900" stop-color="#e8e186"/><stop offset="0.925" stop-color="#e8e188"/><stop offset="0.950" stop-color="#e8e18b"/><stop offset="0.975" stop-color="#e8e18c"/><stop offset="1.000" stop-color="#e8e28e"/></linearGradient>
<linearGradient id="g21" x2="0" y2="1"><stop offset="0.000" stop-color="#d2435c"/><stop offset="0.025" stop-color="#d44659"/><stop offset="0.050" stop-color="#d74d51"/><stop offset="0.075" stop-color="#da5547"/><stop offset="0.100" stop-color="#e0613a"/><stop offset="0.125" stop-color="#e36a31"/><stop offset="0.150" stop-color="#e67427"/><stop offset="0.175" stop-color="#ea801c"/><stop offset="0.200" stop-color="#ed8913"/><stop offset="0.225" stop-color="#ee8e10"/><stop offset="0.250" stop-color="#ee9110"/><stop offset="0.275" stop-color="#ef960f"/><stop offset="0.300" stop-color="#ef9d0f"/><stop offset="0.325" stop-color="#f0a40e"/><stop offset="0.350" stop-color="#f0a910"/><stop offset="0.375" stop-color="#f0ad13"/><stop offset="0.400" stop-color="#f0b416"/><stop offset="0.425" stop-color="#f0bb1b"/><stop offset="0.450" stop-color="#efbf1f"/><stop offset="0.475" stop-color="#efc323"/><stop offset="0.500" stop-color="#eec727"/><stop offset="0.525" stop-color="#edca2f"/><stop offset="0.550" stop-color="#eccc39"/><stop offset="0.575" stop-color="#ebcf42"/><stop offset="0.600" stop-color="#ead14a"/><stop offset="0.625" stop-color="#e9d351"/><stop offset="0.650" stop-color="#e9d458"/><stop offset="0.675" stop-color="#e8d65f"/><stop offset="0.700" stop-color="#e8d866"/><stop offset="0.725" stop-color="#e8da6b"/><stop offset="0.750" stop-color="#e8db6f"/><stop offset="0.775" stop-color="#e8db72"/><stop offset="0.800" stop-color="#e8dc76"/><stop offset="0.825" stop-color="#e8de7a"/><stop offset="0.850" stop-color="#e8df7f"/><stop offset="0.875" stop-color="#e8e083"/><stop offset="0.900" stop-color="#e8e186"/><stop offset="0.925" stop-color="#e8e188"/><stop offset="0.950" stop-color="#e8e18b"/><stop offset="0.975" stop-color="#e8e18c"/><stop offset="1.000" stop-color="#e8e28e"/></linearGradient>
<linearGradient id="g22" x2="0" y2="1"><stop offset="0.000" stop-color="#d3445b"/><stop offset="0.025" stop-color="#d44758"/><stop offset="0.050" stop-color="#d74d51"/><stop offset="0.075" stop-color="#db5647"/><stop offset="0.100" stop-color="#e06139"/><stop offset="0.125" stop-color="#e36a30"/><stop offset="0.150" stop-color="#e77426"/><stop offset="0.175" stop-color="#ea801c"/><stop offset="0.200" stop-color="#ed8913"/><stop offset="0.225" stop-color="#ee8e10"/><stop offset="0.250" stop-color="#ee9110"/><stop offset="0.275" stop-color="#ef960f"/><stop offset="0.300" stop-color="#ef9d0f"/><stop offset="0.325" stop-color="#f0a40e"/><stop offset="0.350" stop-color="#f0a910"/><stop offset="0.375" stop-color="#f0ad13"/><stop offset="0.400" stop-color="#f0b416"/><stop offset="0.425" stop-color="#f0bb1b"/><stop offset="0.450" stop-color="#efbf1f"/><stop offset="0.475" stop-color="#efc323"/><stop offset="0.500" stop-color="#eec727"/><stop offset="0.525" stop-color="#edca2f"/><stop offset="0.550" stop-color="#eccc39"/><stop offset="0.575" stop-color="#ebcf42"/><stop offset="0.600" stop-color="#ead14a"/><stop offset="0.625" stop-color="#e9d351"/><stop offset="0.650" stop-color="#e9d458"/><stop offset="0.675" stop-color="#e8d65f"/><stop offset="0.700" stop-color="#e8d866"/><stop offset="0.725" stop-color="#e8da6b"/><stop offset="0.750" stop-color="#e8db6f"/><stop offset="0.775" stop-color="#e8db72"/><stop offset="0.800" stop-color="#e8dc76"/><stop offset="0.825" stop-color="#e8de7a"/><stop offset="0.850" stop-color="#e8df7f"/><stop offset="0.875" stop-color="#e8e083"/><stop offset="0.900" stop-color="#e8e186"/><stop offset="0.925" stop-color="#e8e188"/><stop offset="0.950" stop-color="#e8e18b"/><stop offset="0.975" stop-color="#e8e18c"/><stop offset="1.000" stop-color="#e8e28e"/></linearGradient>
<linearGradient id="g23" x2="0" y2="1"><stop offset="0.000" stop-color="#d3445b"/><stop offset="0.025" stop-color="#d44758"/><stop offset="0.050" stop-color="#d74d50"/><stop offset="0.075" stop-color="#db5647"/><stop offset="0.100" stop-color="#e06239"/><stop offset="0.125" stop-color="#e36a30"/><stop offset="0.150" stop-color="#e77426"/><stop offset="0.175" stop-color="#ea801c"/><stop offset="0.200" stop-color="#ed8913"/><stop offset="0.225" stop-color="#ee8e10"/><stop offset="0.250" stop-color="#ee9110"/><stop offset="0.275" stop-color="#ef960f"/><stop offset="0.300" stop-color="#ef9d0f"/><stop offset="0.325" stop-color="#f0a40e"/><stop offset="0.350" stop-color="#f0a910"/><stop offset="0.375" stop-color="#f0ad13"/><stop offset="0.400" stop-color="#f0b416"/><stop offset="0.425" stop-color="#f0bb1b"/><stop offset="0.450" stop-color="#efbf1f"/><stop offset="0.475" stop-color="#efc323"/><stop offset="0.500" stop-color="#eec727"/><stop offset="0.525" stop-color="#edca2f"/><stop offset="0.550" stop-color="#eccc39"/><stop offset="0.575" stop-color="#ebcf42"/><stop offset="0.600" stop-color="#ead14a"/><stop offset="0.625" stop-color="#e9d351"/><stop offset="0.650" stop-color="#e9d458"/><stop offset="0.675" stop-color="#e8d65f"/><stop offset="0.700" stop-color="#e8d866"/><stop offset="0.725" stop-color="#e8da6b"/><stop offset="0.750" stop-color="#e8db6f"/><stop offset="0.775" stop-color="#e8db72"/><stop offset="0.800" stop-color="#e8dc76"/><stop offset="0.825" stop-color="#e8de7a"/><stop offset="0.850" stop-color="#e8df7f"/><stop offset="0.875" stop-color="#e8e083"/><stop offset="0.900" stop-color="#e8e186"/><stop offset="0.925" stop-color="#e8e188"/><stop offset="0.950" stop-color="#e8e18b"/><stop offset="0.975" stop-color="#e8e18c"/><stop offset="1.000" stop-color="#e8e28e"/></linearGradient>
<linearGradient id="g24" x2="0" y2="1"><stop offset="0.000" stop-color="#d3445b"/><stop offset="0.025" stop-color="#d44758"/><stop offset="0.050" stop-color="#d74d51"/><stop offset="0.075" stop-color="#db5647"/><stop offset="0.100" stop-color="#e06139"/><stop offset="0.125" stop-color="#e36a30"/><stop offset="0.150" stop-color="#e77426"/><stop offset="0.175" stop-color="#ea7f1c"/><stop offset="0.200" stop-color="#ed8913"/><stop offset="0.225" stop-color="#ee8e10"/><stop offset="0.250" stop-color="#ee9110"/><stop offset="0.275" stop-color="#ef960f"/><stop offset="0.300" stop-color="#ef9d0f"/><stop offset="0.325" stop-color="#f0a40e"/><stop offset="0.350" stop-color="#f0a910"/><stop offset="0.375" stop-color="#f0ad13"/><stop offset="0.400" stop-color="#f0b416"/><stop offset="0.425" stop-color="#f0bb1b"/><stop offset="0.450" stop-color="#efbf1f"/><stop offset="0.475" stop-color="#efc323"/><stop offset="0.500" stop-color="#eec727"/><stop offset="0.525" stop-color="#edca2f"/><stop offset="0.550" stop-color="#eccc39"/><stop offset="0.575" stop-color="#ebcf42"/><stop offset="0.600" stop-color="#ead14a"/><stop offset="0.625" stop-color="#e9d351"/><stop offset="0.650" stop-color="#e9d458"/><stop offset="0.675" stop-color="#e8d65f"/><stop offset="0.700" stop-color="#e8d866"/><stop offset="0.725" stop-color="#e8da6b"/><stop offset="0.750" stop-color="#e8db6f"/><stop offset="0.775" stop-color="#e8db72"/><stop offset="0.800" stop-color="#e8dc76"/><stop offset="0.825" stop-color="#e8de7a"/><stop offset="0.850" stop-color="#e8df7f"/><stop offset="0.875" stop-color="#e8e083"/><stop offset="0.900" stop-color="#e8e186"/><stop offset="0.925" stop-color="#e8e188"/><stop offset="0.950" stop-color="#e8e18b"/><stop offset="0.975" stop-color="#e8e18c"/><stop offset="1.000" stop-color="#e8e28e"/></linearGradient>
<linearGradient id="g25" x2="0" y2="1"><stop offset="0.000" stop-color="#d2435c"/><stop offset="0.025" stop-color="#d44659"/><stop offset="0.050" stop-color="#d64c52"/><stop offset="0.075" stop-color="#da5548"/><stop offset="0.100" stop-color="#e0613a"/><stop offset="0.125" stop-color="#e36931"/><stop offset="0.150" stop-color="#e67427"/><stop offset="0.175" stop-color="#ea7f1c"/><stop offset="0.200" stop-color="#ed8813"/><stop offset="0.225" stop-color="#ee8d10"/><stop offset="0.250" stop-color="#ee9110"/><stop offset="0.275" stop-color="#ef960f"/><stop offset="0.300" stop-color="#ef9d0f"/><stop offset="0.325" stop-color="#f0a40e"/><stop offset="0.350" stop-color="#f0a910"/><stop offset="0.375" stop-color="#f0ad12"/><stop offset="0.400" stop-color="#f0b416"/><stop offset="0.425" stop-color="#f0ba1a"/><stop offset="0.450" stop-color="#efbf1f"/><stop offset="0.475" stop-color="#efc323"/><stop offset="0.500" stop-color="#eec727"/><stop offset="0.525" stop-color="#edca2f"/><stop offset="0.550" stop-color="#eccc39"/><stop offset="0.575" stop-color="#ebcf42"/><stop offset="0.600" stop-color="#ead14a"/><stop offset="0.625" stop-color="#ead251"/><stop offset="0.650" stop-color="#e9d458"/><stop offset="0.675" stop-color="#e8d65f"/><stop offset="0.700" stop-color="#e8d866"/><stop offset="0.725" stop-color="#e8da6b"/><stop offset="0.750" stop-color="#e8db6f"/><stop offset="0.775" stop-color="#e8db72"/><stop offset="0.800" stop-color="#e8dc76"/><stop offset="0.825" stop-color="#e8de7a"/><stop offset="0.850" stop-color="#e8df7f"/><stop offset="0.875" stop-color="#e8e083"/><stop offset="0.900" stop-color="#e8e186"/><stop offset="0.925" stop-color="#e8e188"/><stop offset="0.950" stop-color="#e8e18b"/><stop offset="0.975" stop-color="#e8e18c"/><stop offset="1.000" stop-color="#e8e28e"/></linearGradient>
<linearGradient id="g26" x2="0" y2="1"><stop offset="0.000" stop-color="#d1415e"/><stop offset="0.025" stop-color="#d3445b"/><stop offset="0.050" stop-color="#d64b53"/><stop offset="0.075" stop-color="#da5449"/><stop offset="0.100" stop-color="#df603b"/><stop offset="0.125" stop-color="#e36931"/><stop offset="0.150" stop-color="#e67427"/><stop offset="0.175" stop-color="#ea7f1d"/><stop offset="0.200" stop-color="#ed8814"/><stop offset="0.225" stop-color="#ee8d10"/><stop offset="0.250" stop-color="#ee9110"/><stop offset="0.275" stop-color="#ef960f"/><stop offset="0.300" stop-color="#ef9d0f"/><stop offset="0.325" stop-color="#f0a40e"/><stop offset="0.350" stop-color="#f0a910"/><stop offset="0.375" stop-color="#f0ad12"/><stop offset="0.400" stop-color="#f0b316"/><stop offset="0.425" stop-color="#f0ba1a"/><stop offset="0.450" stop-color="#efbf1f"/><stop offset="0.475" stop-color="#efc323"/><stop offset="0.500" stop-color="#eec727"/><stop offset="0.525" stop-color="#edca2f"/><stop offset="0.550" stop-color="#eccc39"/><stop offset="0.575" stop-color="#ebcf42"/><stop offset="0.600" stop-color="#ead14a"/><stop offset="0.625" stop-color="#ead251"/><stop offset="0.650" stop-color="#e9d458"/><stop offset="0.675" stop-color="#e8d65f"/><stop offset="0.700" stop-color="#e8d866"/><stop offset="0.725" stop-color="#e8da6b"/><stop offset="0.750" stop-color="#e8db6f"/><stop offset="0.775" stop-color="#e8db72"/><stop offset="0.800" stop-color="#e8dc76"/><stop offset="0.825" stop-color="#e8de7a"/><stop offset="0.850" stop-color="#e8df7f"/><stop offset="0.875" stop-color="#e8e083"/><stop offset="0.900" stop-color="#e8e186"/><stop offset="0.925" stop-color="#e8e188"/><stop offset="0.950" stop-color="#e8e18b"/><stop offset="0.975" stop-color="#e8e18c"/><stop offset="1.000" stop-color="#e8e28e"/></linearGradient>
<linearGradient id="g27" x2="0" y2="1"><stop offset="0.000" stop-color="#d03e62"/><stop offset="0.025" stop-color="#d2425d"/><stop offset="0.050" stop-color="#d54955"/><stop offset="0.075" stop-color="#d9534a"/><stop offset="0.100" stop-color="#df5f3c"/><stop offset="0.125" stop-color="#e36832"/><stop offset="0.150" stop-color="#e67328"/><stop offset="0.175" stop-color="#ea7e1d"/><stop offset="0.200" stop-color="#ed8714"/><stop offset="0.225" stop-color="#ee8d10"/><stop offset="0.250" stop-color="#ee9110"/><stop offset="0.275" stop-color="#ef960f"/><stop offset="0.300" stop-color="#ef9d0f"/><stop offset="0.325" stop-color="#f0a40e"/><stop offset="0.350" stop-color="#f0a910"/><stop offset="0.375" stop-color="#f0ad12"/><stop offset="0.400" stop-color="#f0b316"/><stop offset="0.425" stop-color="#f0ba1a"/><stop offset="0.450" stop-color="#efbf1f"/><stop offset="0.475" stop-color="#efc323"/><stop offset="0.500" stop-color="#eec727"/><stop offset="0.525" stop-color="#edca2f"/><stop offset="0.550" stop-color="#eccc39"/><stop offset="0.575" stop-color="#ebcf42"/><stop offset="0.600" stop-color="#ead14a"/><stop offset="0.625" stop-color="#ead251"/><stop offset="0.650" stop-color="#e9d458"/><stop offset="0.675" stop-color="#e8d65f"/><stop offset="0.700" stop-color="#e8d866"/><stop offset="0.725" stop-color="#e8da6b"/><stop offset="0.750" stop-color="#e8db6f"/><stop offset="0.775" stop-color="#e8db72"/><stop offset="0.800" stop-color="#e8dc76"/><stop offset="0.825" stop-color="#e8de7a"/><stop offset="0.850" stop-color="#e8df7f"/><stop offset="0.875" stop-color="#e8e083"/><stop offset="0.900" stop-color="#e8e186"/><stop offset="0.925" stop-color="#e8e188"/><stop offset="0.950" stop-color="#e8e18b"/><stop offset="0.975" stop-color="#e8e18c"/><stop offset="1.000" stop-color="#e8e28e"/></linearGradient>
<linearGradient id="g28" x2="0" y2="1"><stop offset="0.000" stop-color="#cf3c65"/><stop offset="0.025" stop-color="#d13f61"/><stop offset="0.050" stop-color="#d44758"/><stop offset="0.075" stop-color="#d8514d"/><stop offset="0.100" stop-color="#de5e3d"/><stop offset="0.125" stop-color="#e26733"/><stop offset="0.150" stop-color="#e67229"/><stop offset="0.175" stop-color="#e97d1e"/><stop offset="0.200" stop-color="#ec8715"/><stop offset="0.225" stop-color="#ee8d10"/><stop offset="0.250" stop-color="#ee9010"/><stop offset="0.275" stop-color="#ef960f"/><stop offset="0.300" stop-color="#ef9d0f"/><stop offset="0.325" stop-color="#f0a40e"/><stop offset="0.350" stop-color="#f0a810"/><stop offset="0.375" stop-color="#f0ad12"/><stop offset="0.400" stop-color="#f0b316"/><stop offset="0.425" stop-color="#f0ba1a"/><stop offset="0.450" stop-color="#efbf1f"/><stop offset="0.475" stop-color="#efc323"/><stop offset="0.500" stop-color="#eec727"/><stop offset="0.525" stop-color="#edca2f"/><stop offset="0.550" stop-color="#eccc39"/><stop offset="0.575" stop-color="#ebce41"/><stop offset="0.600" stop-color="#ead14a"/><stop offset="0.625" stop-color="#ead251"/><stop offset="0.650" stop-color="#e9d458"/><stop offset="0.675" stop-color="#e8d65f"/><stop offset="0.700" stop-color="#e8d866"/><stop offset="0.725" stop-color="#e8da6b"/><stop offset="0.750" stop-color="#e8db6f"/><stop offset="0.775" stop-color="#e8db72"/><stop offset="0.800" stop-color="#e8dc76"/><stop offset="0.825" stop-color="#e8de7a"/><stop offset="0.850" stop-color="#e8df7f"/><stop offset="0.875" stop-color="#e8e083"/><stop offset="0.900" stop-color="#e8e186"/><stop offset="0.925" stop-color="#e8e188"/><stop offset="0.950" stop-color="#e8e18b"/><stop offset="0.975" stop-color="#e8e18c"/><stop offset="1.000" stop-color="#e8e28e"/></linearGradient>
<linearGradient id="g29" x2="0" y2="1"><stop offset="0.000" stop-color="#cc386a"/><stop offset="0.025" stop-color="#ce3c65"/><stop offset="0.050" stop-color="#d2425d"/><stop offset="0.075" stop-color="#d74d51"/><stop offset="0.100" stop-color="#dd5b40"/><stop offset="0.125" stop-color="#e16535"/><stop offset="0.150" stop-color="#e5702b"/><stop offset="0.175" stop-color="#e97c20"/><stop offset="0.200" stop-color="#ec8616"/><stop offset="0.225" stop-color="#ee8c10"/><stop offset="0.250" stop-color="#ee9010"/><stop offset="0.275" stop-color="#ef950f"/><stop offset="0.300" stop-color="#ef9c0f"/><stop offset="0.325" stop-color="#f0a30e"/><stop offset="0.350" stop-color="#f0a810"/><stop offset="0.375" stop-color="#f0ac12"/><stop offset="0.400" stop-color="#f0b316"/><stop offset="0.425" stop-color="#f0ba1a"/><stop offset="0.450" stop-color="#efbf1f"/><stop offset="0.475" stop-color="#efc323"/><stop offset="0.500" stop-color="#eec727"/><stop offset="0.525" stop-color="#edca2e"/><stop offset="0.550" stop-color="#eccc38"/><stop offset="0.575" stop-color="#ebce41"/><stop offset="0.600" stop-color="#ead049"/><stop offset="0.625" stop-color="#ead251"/><stop offset="0.650" stop-color="#e9d458"/><stop offset="0.675" stop-color="#e8d65f"/><stop offset="0.700" stop-color="#e8d866"/><stop offset="0.725" stop-color="#e8da6b"/><stop offset="0.750" stop-color="#e8db6f"/><stop offset="0.775" stop-color="#e8db72"/><stop offset="0.800" stop-color="#e8dc76"/><stop offset="0.825" stop-color="#e8de7a"/><stop offset="0.850" stop-color="#e8df7f"/><stop offset="0.875" stop-color="#e8e083"/><stop offset="0.900" stop-color="#e8e186"/><stop offset="0.925" stop-color="#e8e188"/><stop offset="0.950" stop-color="#e8e18b"/><stop offset="0.975" stop-color="#e8e18c"/><stop offset="1.000" stop-color="#e8e28e"/></linearGradient>
<linearGradient id="g30" x2="0" y2="1"><stop offset="0.000" stop-color="#c93371"/><stop offset="0.025" stop-color="#cc386b"/><stop offset="0.050" stop-color="#cf3d63"/><stop offset="0.075" stop-color="#d54956"/><stop offset="0.100" stop-color="#dc5844"/><stop offset="0.125" stop-color="#e06238"/><stop offset="0.150" stop-color="#e46e2d"/><stop offset="0.175" stop-color="#e87a21"/><stop offset="0.200" stop-color="#eb8418"/><stop offset="0.225" stop-color="#ee8b11"/><stop offset="0.250" stop-color="#ee8f10"/><stop offset="0.275" stop-color="#ef950f"/><stop offset="0.300" stop-color="#ef9c0f"/><stop offset="0.325" stop-color="#f0a30e"/><stop offset="0.350" stop-color="#f0a810"/><stop offset="0.375" stop-color="#f0ac12"/><stop offset="0.400" stop-color="#f0b315"/><stop offset="0.425" stop-color="#f0ba1a"/><stop offset="0.450" stop-color="#efbf1f"/><stop offset="0.475" stop-color="#efc323"/><stop offset="0.500" stop-color="#eec727"/><stop offset="0.525" stop-color="#edca2e"/><stop offset="0.550" stop-color="#eccc38"/><stop offset="0.575" stop-color="#ebce41"/><stop offset="0.600" stop-color="#ead049"/><stop offset="0.625" stop-color="#ead251"/><stop offset="0.650" stop-color="#e9d458"/><stop offset="0.675" stop-color="#e8d65f"/><stop offset="0.700" stop-color="#e8d866"/><stop offset="0.725" stop-color="#e8da6b"/><stop offset="0.750" stop-color="#e8db6f"/><stop offset="0.775" stop-color="#e8db72"/><stop offset="0.800" stop-color="#e8dc76"/><stop offset="0.825" stop-color="#e8de7a"/><stop offset="0.850" stop-color="#e8df7f"/><stop offset="0.875" stop-color="#e8e083"/><stop offset="0.900" stop-color="#e8e186"/><stop offset="0.925" stop-color="#e8e188"/><stop offset="0.950" stop-color="#e8e18b"/><stop offset="0.975" stop-color="#e8e18c"/><stop offset="1.000" stop-color="#e8e28e"/></linearGradient>
<linearGradient id="g31" x2="0" y2="1"><stop offset="0.000" stop-color="#c52e79"/><stop offset="0.025" stop-color="#c93371"/><stop offset="0.050" stop-color="#cd3969"/><stop offset="0.075" stop-color="#d3445b"/><stop offset="0.100" stop-color="#da5448"/><stop offset="0.125" stop-color="#df5f3c"/><stop offset="0.150" stop-color="#e46b2f"/><stop offset="0.175" stop-color="#e77724"/><stop offset="0.200" stop-color="#eb8219"/><stop offset="0.225" stop-color="#ed8a12"/><stop offset="0.250" stop-color="#ee8f10"/><stop offset="0.275" stop-color="#ef940f"/><stop offset="0.300" stop-color="#ef9b0f"/><stop offset="0.325" stop-color="#f0a20e"/><stop offset="0.350" stop-color="#f0a710"/><stop offset="0.375" stop-color="#f0ac12"/><stop offset="0.400" stop-color="#f0b215"/><stop offset="0.425" stop-color="#f0ba1a"/><stop offset="0.450" stop-color="#efbe1e"/><stop offset="0.475" stop-color="#efc323"/><stop offset="0.500" stop-color="#eec626"/><stop offset="0.525" stop-color="#edc92e"/><stop offset="0.550" stop-color="#eccc38"/><stop offset="0.575" stop-color="#ebce41"/><stop offset="0.600" stop-color="#ead049"/><stop offset="0.625" stop-color="#ead251"/><stop offset="0.650" stop-color="#e9d458"/><stop offset="0.675" stop-color="#e8d65f"/><stop offset="0.700" stop-color="#e8d866"/><stop offset="0.725" stop-color="#e8da6b"/><stop offset="0.750" stop-color="#e8db6f"/><stop offset="0.775" stop-color="#e8db72"/><stop offset="0.800" stop-color="#e8dc76"/><stop offset="0.825" stop-color="#e8de7a"/><stop offset="0.850" stop-color="#e8df7f"/><stop offset="0.875" stop-color="#e8e083"/><stop offset="0.900" stop-color="#e8e186"/><stop offset="0.925" stop-color="#e8e188"/><stop offset="0.950" stop-color="#e8e18b"/><stop offset="0.975" stop-color="#e8e18c"/><stop offset="1.000" stop-color="#e8e28e"/></linearGradient>
<linearGradient id="g32" x2="0" y2="1"><stop offset="0.000" stop-color="#c12782"/><stop offset="0.025" stop-color="#c52e79"/><stop offset="0.050" stop-color="#ca356f"/><stop offset="0.075" stop-color="#d03e62"/><stop offset="0.100" stop-color="#d8504d"/><stop offset="0.125" stop-color="#dd5c40"/><stop offset="0.150" stop-color="#e36832"/><stop offset="0.175" stop-color="#e77526"/><stop offset="0.200" stop-color="#ea801b"/><stop offset="0.225" stop-color="#ed8814"/><stop offset="0.250" stop-color="#ee8e10"/><stop offset="0.275" stop-color="#ef930f"/><stop offset="0.300" stop-color="#ef9b0f"/><stop offset="0.325" stop-color="#f0a20e"/><stop offset="0.350" stop-color="#f0a70f"/><stop offset="0.375" stop-color="#f0ab12"/><stop offset="0.400" stop-color="#f0b215"/><stop offset="0.425" stop-color="#f0b919"/><stop offset="0.450" stop-color="#efbe1e"/><stop offset="0.475" stop-color="#efc222"/><stop offset="0.500" stop-color="#eec626"/><stop offset="0.525" stop-color="#edc92d"/><stop offset="0.550" stop-color="#eccc37"/><stop offset="0.575" stop-color="#ebce40"/><stop offset="0.600" stop-color="#ead049"/><stop offset="0.625" stop-color="#ead250"/><stop offset="0.650" stop-color="#e9d458"/><stop offset="0.675" stop-color="#e8d65f"/><stop offset="0.700" stop-color="#e8d866"/><stop offset="0.725" stop-color="#e8da6b"/><stop offset="0.750" stop-color="#e8db6f"/><stop offset="0.775" stop-color="#e8db72"/><stop offset="0.800" stop-color="#e8dc76"/><stop offset="0.825" stop-color="#e8de7a"/><stop offset="0.850" stop-color="#e8df7f"/><stop offset="0.875" stop-color="#e8e083"/><stop offset="0.900" stop-color="#e8e186"/><stop offset="0.925" stop-color="#e8e188"/><stop offset="0.950" stop-color="#e8e18b"/><stop offset="0.975" stop-color="#e8e18c"/><stop offset="1.000" stop-color="#e8e28e"/></linearGradient>
<linearGradient id="g33" x2="0" y2="1"><stop offset="0.000" stop-color="#b42287"/><stop offset="0.025" stop-color="#c12882"/><stop offset="0.050" stop-color="#c62f77"/><stop offset="0.075" stop-color="#cd3a68"/><stop offset="0.100" stop-color="#d64b53"/><stop offset="0.125" stop-color="#db5745"/><stop offset="0.150" stop-color="#e16536"/><stop offset="0.175" stop-color="#e67129"/><stop offset="0.200" stop-color="#e97e1e"/><stop offset="0.225" stop-color="#ec8616"/><stop offset="0.250" stop-color="#ee8d10"/><stop offset="0.275" stop-color="#ef920f"/><stop offset="0.300" stop-color="#ef9a0f"/><stop offset="0.325" stop-color="#f0a10e"/><stop offset="0.350" stop-color="#f0a60f"/><stop offset="0.375" stop-color="#f0ab11"/><stop offset="0.400" stop-color="#f0b215"/><stop offset="0.425" stop-color="#f0b919"/><stop offset="0.450" stop-color="#efbe1e"/><stop offset="0.475" stop-color="#efc222"/><stop offset="0.500" stop-color="#eec626"/><stop offset="0.525" stop-color="#eec92c"/><stop offset="0.550" stop-color="#eccc36"/><stop offset="0.575" stop-color="#ebce40"/><stop offset="0.600" stop-color="#ead048"/><stop offset="0.625" stop-color="#ead250"/><stop offset="0.650" stop-color="#e9d458"/><stop offset="0.675" stop-color="#e8d65f"/><stop offset="0.700" stop-color="#e8d866"/><stop offset="0.725" stop-color="#e8da6b"/><stop offset="0.750" stop-color="#e8db6f"/><stop offset="0.775" stop-color="#e8db72"/><stop offset="0.800" stop-color="#e8dc76"/><stop offset="0.825" stop-color="#e8de7a"/><stop offset="0.850" stop-color="#e8df7f"/><stop offset="0.875" stop-color="#e8e083"/><stop offset="0.900" stop-color="#e8e186"/><stop offset="0.925" stop-color="#e8e188"/><stop offset="0.950" stop-color="#e8e18b"/><stop offset="0.975" stop-color="#e8e18c"/><stop offset="1.000" stop-color="#e8e28e"/></linearGradient>
<linearGradient id="g34" x2="0" y2="1"><stop offset="0.000" stop-color="#a41d8b"/><stop offset="0.025" stop-color="#b52287"/><stop offset="0.050" stop-color="#c22980"/><stop offset="0.075" stop-color="#ca356f"/><stop offset="0.100" stop-color="#d3455a"/><stop offset="0.125" stop-color="#d9524b"/><stop offset="0.150" stop-color="#df603b"/><stop offset="0.175" stop-color="#e46e2d"/><stop offset="0.200" stop-color="#e87b21"/><stop offset="0.225" stop-color="#eb8418"/><stop offset="0.250" stop-color="#ee8c10"/><stop offset="0.275" stop-color="#ee9210"/><stop offset="0.300" stop-color="#ef990f"/><stop offset="0.325" stop-color="#f0a00e"/><stop offset="0.350" stop-color="#f0a60f"/><stop offset="0.375" stop-color="#f0aa11"/><stop offset="0.400" stop-color="#f0b115"/><stop offset="0.425" stop-color="#f0b919"/><stop offset="0.450" stop-color="#efbe1e"/><stop offset="0.475" stop-color="#efc222"/><stop offset="0.500" stop-color="#eec626"/><stop offset="0.525" stop-color="#eec92b"/><stop offset="0.550" stop-color="#eccc36"/><stop offset="0.575" stop-color="#ebce3f"/><stop offset="0.600" stop-color="#ebd048"/><stop offset="0.625" stop-color="#ead250"/><stop offset="0.650" stop-color="#e9d457"/><stop offset="0.675" stop-color="#e8d65e"/><stop offset="0.700" stop-color="#e8d866"/><stop offset="0.725" stop-color="#e8da6b"/><stop offset="0.750" stop-color="#e8db6f"/><stop offset="0.775" stop-color="#e8db72"/><stop offset="0.800" stop-color="#e8dc76"/><stop offset="0.825" stop-color="#e8de7a"/><stop offset="0.850" stop-color="#e8df7f"/><stop offset="0.875" stop-color="#e8e083"/><stop offset="0.900" stop-color="#e8e186"/><stop offset="0.925" stop-color="#e8e188"/><stop offset="0.950" stop-color="#e8e18b"/><stop offset="0.975" stop-color="#e8e18c"/><stop offset="1.000" stop-color="#e8e28e"/></linearGradient>
<linearGradient id="g35" x2="0" y2="1"><stop offset="0.000" stop-color="#8d168f"/><stop offset="0.025" stop-color="#a61d8a"/><stop offset="0.050" stop-color="#b72386"/><stop offset="0.075" stop-color="#c62f78"/><stop offset="0.100" stop-color="#d03e63"/><stop offset="0.125" stop-color="#d64c52"/><stop offset="0.150" stop-color="#dd5b41"/><stop offset="0.175" stop-color="#e36931"/><stop offset="0.200" stop-color="#e77724"/><stop offset="0.225" stop-color="#eb811a"/><stop offset="0.250" stop-color="#ed8a12"/><stop offset="0.275" stop-color="#ee9010"/><stop offset="0.300" stop-color="#ef980f"/><stop offset="0.325" stop-color="#f09f0e"/><stop offset="0.350" stop-color="#f0a50e"/><stop offset="0.375" stop-color="#f0aa11"/><stop offset="0.400" stop-color="#f0b014"/><stop offset="0.425" stop-color="#f0b818"/><stop offset="0.450" stop-color="#efbd1d"/><stop offset="0.475" stop-color="#efc222"/><stop offset="0.500" stop-color="#eec525"/><stop offset="0.525" stop-color="#eec92b"/><stop offset="0.550" stop-color="#edcb35"/><stop offset="0.575" stop-color="#ecce3e"/><stop offset="0.600" stop-color="#ebd047"/><stop offset="0.625" stop-color="#ead24f"/><stop offset="0.650" stop-color="#e9d457"/><stop offset="0.675" stop-color="#e8d65e"/><stop offset="0.700" stop-color="#e8d866"/><stop offset="0.725" stop-color="#e8da6b"/><stop offset="0.750" stop-color="#e8db6f"/><stop offset="0.775" stop-color="#e8db72"/><stop offset="0.800" stop-color="#e8dc76"/><stop offset="0.825" stop-color="#e8de7a"/><stop offset="0.850" stop-color="#e8df7f"/><stop offset="0.875" stop-color="#e8e083"/><stop offset="0.900" stop-color="#e8e186"/><stop offset="0.925" stop-color="#e8e188"/><stop offset="0.950" stop-color="#e8e18b"/><stop offset="0.975" stop-color="#e8e18c"/><stop offset="1.000" stop-color="#e8e28e"/></linearGradient>
<linearGradient id="g36" x2="0" y2="1"><stop offset="0.000" stop-color="#741192"/><stop offset="0.025" stop-color="#99198d"/><stop offset="0.050" stop-color="#ac1f89"/><stop offset="0.075" stop-color="#c32a7f"/><stop offset="0.100" stop-color="#cd3a68"/><stop offset="0.125" stop-color="#d44757"/><stop offset="0.150" stop-color="#db5646"/><stop offset="0.175" stop-color="#e26535"/><stop offset="0.200" stop-color="#e67427"/><stop offset="0.225" stop-color="#ea7f1c"/><stop offset="0.250" stop-color="#ed8814"/><stop offset="0.275" stop-color="#ee8f10"/><stop offset="0.300" stop-color="#ef970f"/><stop offset="0.325" stop-color="#f09e0e"/><stop offset="0.350" stop-color="#f0a40e"/><stop offset="0.375" stop-color="#f0a910"/><stop offset="0.400" stop-color="#f0b014"/><stop offset="0.425" stop-color="#f0b818"/><stop offset="0.450" stop-color="#efbd1d"/><stop offset="0.475" stop-color="#efc121"/><stop offset="0.500" stop-color="#eec525"/><stop offset="0.525" stop-color="#eec82a"/><stop offset="0.550" stop-color="#edcb34"/><stop offset="0.575" stop-color="#ecce3e"/><stop offset="0.600" stop-color="#ebd047"/><stop offset="0.625" stop-color="#ead24f"/><stop offset="0.650" stop-color="#e9d457"/><stop offset="0.675" stop-color="#e8d65e"/><stop offset="0.700" stop-color="#e8d866"/><stop offset="0.725" stop-color="#e8da6b"/><stop offset="0.750" stop-color="#e8db6f"/><stop offset="0.775" stop-color="#e8db72"/><stop offset="0.800" stop-color="#e8dc76"/><stop offset="0.825" stop-color="#e8de7a"/><stop offset="0.850" stop-color="#e8df7f"/><stop offset="0.875" stop-color="#e8e083"/><stop offset="0.900" stop-color="#e8e186"/><stop offset="0.925" stop-color="#e8e188"/><stop offset="0.950" stop-color="#e8e18b"/><stop offset="0.975" stop-color="#e8e18c"/><stop offset="1.000" stop-color="#e8e28e"/></linearGradient>
<linearGradient id="g37" x2="0" y2="1"><stop offset="0.000" stop-color="#5e0c95"/><stop offset="0.025" stop-color="#891590"/><stop offset="0.050" stop-color="#a31c8b"/><stop offset="0.075" stop-color="#bf2684"/><stop offset="0.100" stop-color="#cb376c"/><stop offset="0.125" stop-color="#d2435c"/><stop offset="0.150" stop-color="#d9534a"/><stop offset="0.175" stop-color="#e06239"/><stop offset="0.200" stop-color="#e67229"/><stop offset="0.225" stop-color="#e97d1e"/><stop offset="0.250" stop-color="#ec8615"/><stop offset="0.275" stop-color="#ee8f10"/><stop offset="0.300" stop-color="#ef960f"/><stop offset="0.325" stop-color="#ef9e0f"/><stop offset="0.350" stop-color="#f0a40e"/><stop offset="0.375" stop-color="#f0a810"/><stop offset="0.400" stop-color="#f0af14"/><stop offset="0.425" stop-color="#f0b718"/><stop offset="0.450" stop-color="#efbd1d"/><stop offset="0.475" stop-color="#efc121"/><stop offset="0.500" stop-color="#eec525"/><stop offset="0.525" stop-color="#eec829"/><stop offset="0.550" stop-color="#edcb34"/><stop offset="0.575" stop-color="#eccd3d"/><stop offset="0.600" stop-color="#ebd046"/><stop offset="0.625" stop-color="#ead24f"/><stop offset="0.650" stop-color="#e9d457"/><stop offset="0.675" stop-color="#e8d65e"/><stop offset="0.700" stop-color="#e8d866"/><stop offset="0.725" stop-color="#e8da6b"/><stop offset="0.750" stop-color="#e8db6f"/><stop offset="0.775" stop-color="#e8db72"/><stop offset="0.800" stop-color="#e8dc76"/><stop offset="0.825" stop-color="#e8de7a"/><stop offset="0.850" stop-color="#e8df7f"/><stop offset="0.875" stop-color="#e8e083"/><stop offset="0.900" stop-color="#e8e186"/><stop offset="0.925" stop-color="#e8e188"/><stop offset="0.950" stop-color="#e8e18b"/><stop offset="0.975" stop-color="#e8e18c"/><stop offset="1.000" stop-color="#e8e28e"/></linearGradient>
<linearGradient id="g38" x2="0" y2="1"><stop offset="0.000" stop-color="#4f0b91"/><stop offset="0.025" stop-color="#7a1291"/><stop offset="0.050" stop-color="#9a198d"/><stop offset="0.075" stop-color="#b92486"/><stop offset="0.100" stop-color="#c93470"/><stop offset="0.125" stop-color="#d13f60"/><stop offset="0.150" stop-color="#d84f4e"/><stop offset="0.175" stop-color="#df5f3c"/><stop offset="0.200" stop-color="#e56f2b"/><stop offset="0.225" stop-color="#e97b20"/><stop offset="0.250" stop-color="#ec8516"/><stop offset="0.275" stop-color="#ee8e10"/><stop offset="0.300" stop-color="#ef950f"/><stop offset="0.325" stop-color="#ef9d0f"/><stop offset="0.350" stop-color="#f0a30e"/><stop offset="0.375" stop-color="#f0a810"/><stop offset="0.400" stop-color="#f0af14"/><stop offset="0.425" stop-color="#f0b718"/><stop offset="0.450" stop-color="#efbc1c"/><stop offset="0.475" stop-color="#efc121"/><stop offset="0.500" stop-color="#eec525"/><stop offset="0.525" stop-color="#eec829"/><stop offset="0.550" stop-color="#edcb33"/><stop offset="0.575" stop-color="#eccd3d"/><stop offset="0.600" stop-color="#ebd046"/><stop offset="0.625" stop-color="#ead24e"/><stop offset="0.650" stop-color="#e9d456"/><stop offset="0.675" stop-color="#e8d65e"/><stop offset="0.700" stop-color="#e8d866"/><stop offset="0.725" stop-color="#e8da6b"/><stop offset="0.750" stop-color="#e8db6f"/><stop offset="0.775" stop-color="#e8db72"/><stop offset="0.800" stop-color="#e8dc76"/><stop offset="0.825" stop-color="#e8de7a"/><stop offset="0.850" stop-color="#e8df7f"/><stop offset="0.875" stop-color="#e8e083"/><stop offset="0.900" stop-color="#e8e186"/><stop offset="0.925" stop-color="#e8e188"/><stop offset="0.950" stop-color="#e8e18b"/><stop offset="0.975" stop-color="#e8e18c"/><stop offset="1.000" stop-color="#e8e28e"/></linearGradient>
<linearGradient id="g39" x2="0" y2="1"><stop offset="0.000" stop-color="#470b88"/><stop offset="0.025" stop-color="#6d0f93"/><stop offset="0.050" stop-color="#92178f"/><stop offset="0.075" stop-color="#b32287"/><stop offset="0.100" stop-color="#c83273"/><stop offset="0.125" stop-color="#cf3d63"/><stop offset="0.150" stop-color="#d74d51"/><stop offset="0.175" stop-color="#de5d3f"/><stop offset="0.200" stop-color="#e46d2d"/><stop offset="0.225" stop-color="#e87a21"/><stop offset="0.250" stop-color="#ec8417"/><stop offset="0.275" stop-color="#ee8d10"/><stop offset="0.300" stop-color="#ef950f"/><stop offset="0.325" stop-color="#ef9c0f"/><stop offset="0.350" stop-color="#f0a30e"/><stop offset="0.375" stop-color="#f0a810"/><stop offset="0.400" stop-color="#f0af13"/><stop offset="0.425" stop-color="#f0b717"/><stop offset="0.450" stop-color="#efbc1c"/><stop offset="0.475" stop-color="#efc121"/><stop offset="0.500" stop-color="#eec525"/><stop offset="0.525" stop-color="#eec828"/><stop offset="0.550" stop-color="#edcb33"/><stop offset="0.575" stop-color="#eccd3d"/><stop offset="0.600" stop-color="#ebd046"/><stop offset="0.625" stop-color="#ead24e"/><stop offset="0.650" stop-color="#e9d456"/><stop offset="0.675" stop-color="#e8d65e"/><stop offset="0.700" stop-color="#e8d866"/><stop offset="0.725" stop-color="#e8da6b"/><stop offset="0.750" stop-color="#e8db6f"/><stop offset="0.775" stop-color="#e8db72"/><stop offset="0.800" stop-color="#e8dc76"/><stop offset="0.825" stop-color="#e8de7a"/><stop offset="0.850" stop-color="#e8df7f"/><stop offset="0.875" stop-color="#e8e083"/><stop offset="0.900" stop-color="#e8e186"/><stop offset="0.925" stop-color="#e8e188"/><stop offset="0.950" stop-color="#e8e18b"/><stop offset="0.975" stop-color="#e8e18c"/><stop offset="1.000" stop-color="#e8e28e"/></linearGradient>
<linearGradient id="g40" x2="0" y2="1"><stop offset="0.000" stop-color="#400c81"/><stop offset="0.025" stop-color="#640d94"/><stop offset="0.050" stop-color="#891590"/><stop offset="0.075" stop-color="#af2088"/><stop offset="0.100" stop-color="#c73076"/><stop offset="0.125" stop-color="#ce3c65"/><stop offset="0.150" stop-color="#d64b54"/><stop offset="0.175" stop-color="#dd5b41"/><stop offset="0.200" stop-color="#e46c2e"/><stop offset="0.225" stop-color="#e87922"/><stop offset="0.250" stop-color="#eb8318"/><stop offset="0.275" stop-color="#ee8d10"/><stop offset="0.300" stop-color="#ef940f"/><stop offset="0.325" stop-color="#ef9c0f"/><stop offset="0.350" stop-color="#f0a20e"/><stop offset="0.375" stop-color="#f0a710"/><stop offset="0.400" stop-color="#f0ae13"/><stop offset="0.425" stop-color="#f0b717"/><stop offset="0.450" stop-color="#f0bc1c"/><stop offset="0.475" stop-color="#efc020"/><stop offset="0.500" stop-color="#eec424"/><stop offset="0.525" stop-color="#eec828"/><stop offset="0.550" stop-color="#edcb32"/><stop offset="0.575" stop-color="#eccd3c"/><stop offset="0.600" stop-color="#ebd045"/><stop offset="0.625" stop-color="#ead24e"/><stop offset="0.650" stop-color="#e9d456"/><stop offset="0.675" stop-color="#e8d65e"/><stop offset="0.700" stop-color="#e8d866"/><stop offset="0.725" stop-color="#e8da6b"/><stop offset="0.750" stop-color="#e8db6f"/><stop offset="0.775" stop-color="#e8db72"/><stop offset="0.800" stop-color="#e8dc76"/><stop offset="0.825" stop-color="#e8de7a"/><stop offset="0.850" stop-color="#e8df7f"/><stop offset="0.875" stop-color="#e8e083"/><stop offset="0.900" stop-color="#e8e186"/><stop offset="0.925" stop-color="#e8e188"/><stop offset="0.950" stop-color="#e8e18b"/><stop offset="0.975" stop-color="#e8e18c"/><stop offset="1.000" stop-color="#e8e28e"/></linearGradient>
<linearGradient id="g41" x2="0" y2="1"><stop offset="0.000" stop-color="#3b0d7b"/><stop offset="0.025" stop-color="#5c0c95"/><stop offset="0.050" stop-color="#831490"/><stop offset="0.075" stop-color="#ac1f89"/><stop offset="0.100" stop-color="#c62f78"/><stop offset="0.125" stop-color="#ce3a67"/><stop offset="0.150" stop-color="#d54955"/><stop offset="0.175" stop-color="#dc5943"/><stop offset="0.200" stop-color="#e46b2f"/><stop offset="0.225" stop-color="#e87823"/><stop offset="0.250" stop-color="#eb8319"/><stop offset="0.275" stop-color="#ee8c10"/><stop offset="0.300" stop-color="#ef940f"/><stop offset="0.325" stop-color="#ef9c0f"/><stop offset="0.350" stop-color="#f0a20e"/><stop offset="0.375" stop-color="#f0a710"/><stop offset="0.400" stop-color="#f0ae13"/><stop offset="0.425" stop-color="#f0b617"/><stop offset="0.450" stop-color="#f0bc1c"/><stop offset="0.475" stop-color="#efc020"/><stop offset="0.500" stop-color="#eec424"/><stop offset="0.525" stop-color="#eec828"/><stop offset="0.550" stop-color="#edcb32"/><stop offset="0.575" stop-color="#eccd3c"/><stop offset="0.600" stop-color="#ebcf45"/><stop offset="0.625" stop-color="#ead24e"/><stop offset="0.650" stop-color="#e9d456"/><stop offset="0.675" stop-color="#e8d65e"/><stop offset="0.700" stop-color="#e8d865"/><stop offset="0.725" stop-color="#e8da6b"/><stop offset="0.750" stop-color="#e8db6f"/><stop offset="0.775" stop-color="#e8db72"/><stop offset="0.800" stop-color="#e8dc76"/><stop offset="0.825" stop-color="#e8de7a"/><stop offset="0.850" stop-color="#e8df7f"/><stop offset="0.875" stop-color="#e8e083"/><stop offset="0.900" stop-color="#e8e186"/><stop offset="0.925" stop-color="#e8e188"/><stop offset="0.950" stop-color="#e8e18b"/><stop offset="0.975" stop-color="#e8e18c"/><stop offset="1.000" stop-color="#e8e28e"/></linearGradient>
<linearGradient id="g42" x2="0" y2="1"><stop offset="0.000" stop-color="#370d77"/><stop offset="0.025" stop-color="#560a96"/><stop offset="0.050" stop-color="#7d1391"/><stop offset="0.075" stop-color="#a91e89"/><stop offset="0.100" stop-color="#c52e79"/><stop offset="0.125" stop-color="#cd3a68"/><stop offset="0.150" stop-color="#d44857"/><stop offset="0.175" stop-color="#dc5844"/><stop offset="0.200" stop-color="#e36a30"/><stop offset="0.225" stop-color="#e87723"/><stop offset="0.250" stop-color="#eb8219"/><stop offset="0.275" stop-color="#ee8c10"/><stop offset="0.300" stop-color="#ef940f"/><stop offset="0.325" stop-color="#ef9b0f"/><stop offset="0.350" stop-color="#f0a20e"/><stop offset="0.375" stop-color="#f0a70f"/><stop offset="0.400" stop-color="#f0ae13"/><stop offset="0.425" stop-color="#f0b617"/><stop offset="0.450" stop-color="#f0bc1c"/><stop offset="0.475" stop-color="#efc020"/><stop offset="0.500" stop-color="#eec424"/><stop offset="0.525" stop-color="#eec828"/><stop offset="0.550" stop-color="#edcb32"/><stop offset="0.575" stop-color="#eccd3c"/><stop offset="0.600" stop-color="#ebcf45"/><stop offset="0.625" stop-color="#ead24e"/><stop offset="0.650" stop-color="#e9d456"/><stop offset="0.675" stop-color="#e8d65e"/><stop offset="0.700" stop-color="#e8d865"/><stop offset="0.725" stop-color="#e8da6b"/><stop offset="0.750" stop-color="#e8db6f"/><stop offset="0.775" stop-color="#e8db72"/><stop offset="0.800" stop-color="#e8dc76"/><stop offset="0.825" stop-color="#e8de7a"/><stop offset="0.850" stop-color="#e8df7f"/><stop offset="0.875" stop-color="#e8e083"/><stop offset="0.900" stop-color="#e8e186"/><stop offset="0.925" stop-color="#e8e188"/><stop offset="0.950" stop-color="#e8e18b"/><stop offset="0.975" stop-color="#e8e18c"/><stop offset="1.000" stop-color="#e8e28e"/></linearGradient>
<linearGradient id="g43" x2="0" y2="1"><stop offset="0.000" stop-color="#340e74"/><stop offset="0.025" stop-color="#530a95"/><stop offset="0.050" stop-color="#7a1291"/><stop offset="0.075" stop-color="#a81e8a"/><stop offset="0.100" stop-color="#c52d7a"/><stop offset="0.125" stop-color="#cd3969"/><stop offset="0.150" stop-color="#d44758"/><stop offset="0.175" stop-color="#db5745"/><stop offset="0.200" stop-color="#e36931"/><stop offset="0.225" stop-color="#e77724"/><stop offset="0.250" stop-color="#eb821a"/><stop offset="0.275" stop-color="#ee8c10"/><stop offset="0.300" stop-color="#ef940f"/><stop offset="0.325" stop-color="#ef9b0f"/><stop offset="0.350" stop-color="#f0a20e"/><stop offset="0.375" stop-color="#f0a70f"/><stop offset="0.400" stop-color="#f0ae13"/><stop offset="0.425" stop-color="#f0b617"/><stop offset="0.450" stop-color="#f0bc1c"/><stop offset="0.475" stop-color="#efc020"/><stop offset="0.500" stop-color="#eec424"/><stop offset="0.525" stop-color="#eec828"/><stop offset="0.550" stop-color="#edcb32"/><stop offset="0.575" stop-color="#eccd3c"/><stop offset="0.600" stop-color="#ebcf45"/><stop offset="0.625" stop-color="#ead24e"/><stop offset="0.650" stop-color="#e9d456"/><stop offset="0.675" stop-color="#e8d65e"/><stop offset="0.700" stop-color="#e8d865"/><stop offset="0.725" stop-color="#e8da6b"/><stop offset="0.750" stop-color="#e8db6f"/><stop offset="0.775" stop-color="#e8db72"/><stop offset="0.800" stop-color="#e8dc76"/><stop offset="0.825" stop-color="#e8de7a"/><stop offset="0.850" stop-color="#e8df7f"/><stop offset="0.875" stop-color="#e8e083"/><stop offset="0.900" stop-color="#e8e186"/><stop offset="0.925" stop-color="#e8e188"/><stop offset="0.950" stop-color="#e8e18b"/><stop offset="0.975" stop-color="#e8e18c"/><stop offset="1.000" stop-color="#e8e28e"/></linearGradient>
<linearGradient id="g44" x2="0" y2="1"><stop offset="0.000" stop-color="#320e72"/><stop offset="0.025" stop-color="#510a93"/><stop offset="0.050" stop-color="#771192"/><stop offset="0.075" stop-color="#a61d8a"/><stop offset="0.100" stop-color="#c42c7b"/><stop offset="0.125" stop-color="#cc386a"/><stop offset="0.150" stop-color="#d44659"/><stop offset="0.175" stop-color="#db5746"/><stop offset="0.200" stop-color="#e36931"/><stop offset="0.225" stop-color="#e77724"/><stop offset="0.250" stop-color="#eb811a"/><stop offset="0.275" stop-color="#ee8c10"/><stop offset="0.300" stop-color="#ef930f"/><stop offset="0.325" stop-color="#ef9b0f"/><stop offset="0.350" stop-color="#f0a10e"/><stop offset="0.375" stop-color="#f0a70f"/><stop offset="0.400" stop-color="#f0ae13"/><stop offset="0.425" stop-color="#f0b617"/><stop offset="0.450" stop-color="#f0bc1c"/><stop offset="0.475" stop-color="#efc020"/><stop offset="0.500" stop-color="#eec424"/><stop offset="0.525" stop-color="#eec828"/><stop offset="0.550" stop-color="#edca32"/><stop offset="0.575" stop-color="#eccd3c"/><stop offset="0.600" stop-color="#ebcf45"/><stop offset="0.625" stop-color="#ead24e"/><stop offset="0.650" stop-color="#e9d456"/><stop offset="0.675" stop-color="#e8d65d"/><stop offset="0.700" stop-color="#e8d865"/><stop offset="0.725" stop-color="#e8da6b"/><stop offset="0.750" stop-color="#e8db6f"/><stop offset="0.775" stop-color="#e8db72"/><stop offset="0.800" stop-color="#e8dc76"/><stop offset="0.825" stop-color="#e8de7a"/><stop offset="0.850" stop-color="#e8df7f"/><stop offset="0.875" stop-color="#e8e083"/><stop offset="0.900" stop-color="#e8e186"/><stop offset="0.925" stop-color="#e8e188"/><stop offset="0.950" stop-color="#e8e18b"/><stop offset="0.975" stop-color="#e8e18c"/><stop offset="1.000" stop-color="#e8e28e"/></linearGradient>
<linearGradient id="g45" x2="0" y2="1"><stop offset="0.000" stop-color="#300e70"/><stop offset="0.025" stop-color="#500a91"/><stop offset="0.050" stop-color="#751192"/><stop offset="0.075" stop-color="#a51d8a"/><stop offset="0.100" stop-color="#c42c7c"/><stop offset="0.125" stop-color="#cc386a"/><stop offset="0.150" stop-color="#d34659"/><stop offset="0.175" stop-color="#db5646"/><stop offset="0.200" stop-color="#e36931"/><stop offset="0.225" stop-color="#e77624"/><stop offset="0.250" stop-color="#eb811a"/><stop offset="0.275" stop-color="#ee8b10"/><stop offset="0.300" stop-color="#ef930f"/><stop offset="0.325" stop-color="#ef9b0f"/><stop offset="0.350" stop-color="#f0a10e"/><stop offset="0.375" stop-color="#f0a70f"/><stop offset="0.400" stop-color="#f0ae13"/><stop offset="0.425" stop-color="#f0b617"/><stop offset="0.450" stop-color="#f0bc1c"/><stop offset="0.475" stop-color="#efc020"/><stop offset="0.500" stop-color="#eec424"/><stop offset="0.525" stop-color="#eec828"/><stop offset="0.550" stop-color="#edca32"/><stop offset="0.575" stop-color="#eccd3c"/><stop offset="0.600" stop-color="#ebcf45"/><stop offset="0.625" stop-color="#ead24e"/><stop offset="0.650" stop-color="#e9d456"/><stop offset="0.675" stop-color="#e8d65d"/><stop offset="0.700" stop-color="#e8d865"/><stop offset="0.725" stop-color="#e8da6b"/><stop offset="0.750" stop-color="#e8db6f"/><stop offset="0.775" stop-color="#e8db72"/><stop offset="0.800" stop-color="#e8dc76"/><stop offset="0.825" stop-color="#e8de7a"/><stop offset="0.850" stop-color="#e8df7f"/><stop offset="0.875" stop-color="#e8e083"/><stop offset="0.900" stop-color="#e8e186"/><stop offset="0.925" stop-color="#e8e188"/><stop offset="0.950" stop-color="#e8e18b"/><stop offset="0.975" stop-color="#e8e18c"/><stop offset="1.000" stop-color="#e8e28e"/></linearGradient>
<linearGradient id="g46" x2="0" y2="1"><stop offset="0.000" stop-color="#2f0e70"/><stop offset="0.025" stop-color="#4f0b90"/><stop offset="0.050" stop-color="#741192"/><stop offset="0.075" stop-color="#a51d8b"/><stop offset="0.100" stop-color="#c42c7c"/><stop offset="0.125" stop-color="#cc386b"/><stop offset="0.150" stop-color="#d3455a"/><stop offset="0.175" stop-color="#db5647"/><stop offset="0.200" stop-color="#e36832"/><stop offset="0.225" stop-color="#e77625"/><stop offset="0.250" stop-color="#eb811a"/><stop offset="0.275" stop-color="#ee8b11"/><stop offset="0.300" stop-color="#ef930f"/><stop offset="0.325" stop-color="#ef9b0f"/><stop offset="0.350" stop-color="#f0a10e"/><stop offset="0.375" stop-color="#f0a70f"/><stop offset="0.400" stop-color="#f0ae13"/><stop offset="0.425" stop-color="#f0b617"/><stop offset="0.450" stop-color="#f0bb1b"/><stop offset="0.475" stop-color="#efc020"/><stop offset="0.500" stop-color="#eec424"/><stop offset="0.525" stop-color="#eec828"/><stop offset="0.550" stop-color="#edca32"/><stop offset="0.575" stop-color="#eccd3c"/><stop offset="0.600" stop-color="#ebcf45"/><stop offset="0.625" stop-color="#ead24d"/><stop offset="0.650" stop-color="#e9d456"/><stop offset="0.675" stop-color="#e8d65d"/><stop offset="0.700" stop-color="#e8d865"/><stop offset="0.725" stop-color="#e8da6b"/><stop offset="0.750" stop-color="#e8db6f"/><stop offset="0.775" stop-color="#e8db72"/><stop offset="0.800" stop-color="#e8dc76"/><stop offset="0.825" stop-color="#e8de7a"/><stop offset="0.850" stop-color="#e8df7f"/><stop offset="0.875" stop-color="#e8e083"/><stop offset="0.900" stop-color="#e8e186"/><stop offset="0.925" stop-color="#e8e188"/><stop offset="0.950" stop-color="#e8e18b"/><stop offset="0.975" stop-color="#e8e18c"/><stop offset="1.000" stop-color="#e8e28e"/></linearGradient>
<linearGradient id="g47" x2="0" y2="1"><stop offset="0.000" stop-color="#2f0e6f"/><stop offset="0.025" stop-color="#4e0b90"/><stop offset="0.050" stop-color="#721092"/><stop offset="0.075" stop-color="#a41d8b"/><stop offset="0.100" stop-color="#c42b7c"/><stop offset="0.125" stop-color="#cc386b"/><stop offset="0.150" stop-color="#d3455a"/><stop offset="0.175" stop-color="#db5647"/><stop offset="0.200" stop-color="#e36832"/><stop offset="0.225" stop-color="#e77625"/><stop offset="0.250" stop-color="#eb811a"/><stop offset="0.275" stop-color="#ee8b11"/><stop offset="0.300" stop-color="#ef930f"/><stop offset="0.325" stop-color="#ef9b0f"/><stop offset="0.350" stop-color="#f0a10e"/><stop offset="0.375" stop-color="#f0a70f"/><stop offset="0.400" stop-color="#f0ae13"/><stop offset="0.425" stop-color="#f0b617"/><stop offset="0.450" stop-color="#f0bb1b"/><stop offset="0.475" stop-color="#efc020"/><stop offset="0.500" stop-color="#eec424"/><stop offset="0.525" stop-color="#eec828"/><stop offset="0.550" stop-color="#edca32"/><stop offset="0.575" stop-color="#eccd3c"/><stop offset="0.600" stop-color="#ebcf45"/><stop offset="0.625" stop-color="#ead24d"/><stop offset="0.650" stop-color="#e9d456"/><stop offset="0.675" stop-color="#e8d65d"/><stop offset="0.700" stop-color="#e8d865"/><stop offset="0.725" stop-color="#e8da6b"/><stop offset="0.750" stop-color="#e8db6f"/><stop offset="0.775" stop-color="#e8db72"/><stop offset="0.800" stop-color="#e8dc76"/><stop offset="0.825" stop-color="#e8de7a"/><stop offset="0.850" stop-color="#e8df7f"/><stop offset="0.875" stop-color="#e8e083"/><stop offset="0.900" stop-color="#e8e186"/><stop offset="0.925" stop-color="#e8e188"/><stop offset="0.950" stop-color="#e8e18b"/><stop offset="0.975" stop-color="#e8e18c"/><stop offset="1.000" stop-color="#e8e28e"/></linearGradient>
<linearGradient id="g48" x2="0" y2="1"><stop offset="0.000" stop-color="#2f0e6f"/><stop offset="0.025" stop-color="#4d0b8f"/><stop offset="0.050" stop-color="#711092"/><stop offset="0.075" stop-color="#a31c8b"/><stop offset="0.100" stop-color="#c32b7d"/><stop offset="0.125" stop-color="#cc376b"/><stop offset="0.150" stop-color="#d3455a"/><stop offset="0.175" stop-color="#da5547"/><stop offset="0.200" stop-color="#e36832"/><stop offset="0.225" stop-color="#e77625"/><stop offset="0.250" stop-color="#ea811b"/><stop offset="0.275" stop-color="#ee8b11"/><stop offset="0.300" stop-color="#ef930f"/><stop offset="0.325" stop-color="#ef9b0f"/><stop offset="0.350" stop-color="#f0a10e"/><stop offset="0.375" stop-color="#f0a70f"/><stop offset="0.400" stop-color="#f0ae13"/><stop offset="0.425" stop-color="#f0b617"/><stop offset="0.450" stop-color="#f0bb1b"/><stop offset="0.475" stop-color="#efc020"/><stop offset="0.500" stop-color="#eec424"/><stop offset="0.525" stop-color="#eec828"/><stop offset="0.550" stop-color="#edca32"/><stop offset="0.575" stop-color="#eccd3c"/><stop offset="0.600" stop-color="#ebcf45"/><stop offset="0.625" stop-color="#ead24d"/><stop offset="0.650" stop-color="#e9d456"/><stop offset="0.675" stop-color="#e8d65d"/><stop offset="0.700" stop-color="#e8d865"/><stop offset="0.725" stop-color="#e8da6b"/><stop offset="0.750" stop-color="#e8db6f"/><stop offset="0.775" stop-color="#e8db72"/><stop offset="0.800" stop-color="#e8dc76"/><stop offset="0.825" stop-color="#e8de7a"/><stop offset="0.850" stop-color="#e8df7f"/><stop offset="0.875" stop-color="#e8e083"/><stop offset="0.900" stop-color="#e8e186"/><stop offset="0.925" stop-color="#e8e188"/><stop offset="0.950" stop-color="#e8e18b"/><stop offset="0.975" stop-color="#e8e18c"/><stop offset="1.000" stop-color="#e8e28e"/></linearGradient>
<linearGradient id="g49" x2="0" y2="1"><stop offset="0.000" stop-color="#2e0e6f"/><stop offset="0.025" stop-color="#4d0b8e"/><stop offset="0.050" stop-color="#711093"/><stop offset="0.075" stop-color="#a31c8b"/><stop offset="0.100" stop-color="#c32b7d"/><stop offset="0.125" stop-color="#cc376b"/><stop offset="0.150" stop-color="#d3445b"/><stop offset="0.175" stop-color="#da5547"/><stop offset="0.200" stop-color="#e36832"/><stop offset="0.225" stop-color="#e77625"/><stop offset="0.250" stop-color="#ea811b"/><stop offset="0.275" stop-color="#ee8b11"/><stop offset="0.300" stop-color="#ef930f"/><stop offset="0.325" stop-color="#ef9b0f"/><stop offset="0.350" stop-color="#f0a10e"/><stop offset="0.375" stop-color="#f0a70f"/><stop offset="0.400" stop-color="#f0ae13"/><stop offset="0.425" stop-color="#f0b617"/><stop offset="0.450" stop-color="#f0bb1b"/><stop offset="0.475" stop-color="#efc020"/><stop offset="0.500" stop-color="#eec424"/><stop offset="0.525" stop-color="#eec828"/><stop offset="0.550" stop-color="#edca32"/><stop offset="0.575" stop-color="#eccd3c"/><stop offset="0.600" stop-color="#ebcf45"/><stop offset="0.625" stop-color="#ead24d"/><stop offset="0.650" stop-color="#e9d456"/><stop offset="0.675" stop-color="#e8d65d"/><stop offset="0.700" stop-color="#e8d865"/><stop offset="0.725" stop-color="#e8da6b"/><stop offset="0.750" stop-color="#e8db6f"/><stop offset="0.775" stop-color="#e8db72"/><stop offset="0.800" stop-color="#e8dc76"/><stop offset="0.825" stop-color="#e8de7a"/><stop offset="0.850" stop-color="#e8df7f"/><stop offset="0.875" stop-color="#e8e083"/><stop offset="0.900" stop-color="#e8e186"/><stop offset="0.925" stop-color="#e8e188"/><stop offset="0.950" stop-color="#e8e18b"/><stop offset="0.975" stop-color="#e8e18c"/><stop offset="1.000" stop-color="#e8e28e"/></linearGradient>
<filter id="hb" x="-5%" y="0" width="110%" height="100%" color-interpolation-filters="sRGB"><feGaussianBlur stdDeviation="2.6 0"/></filter>
<linearGradient id="ta" x2="0" y2="1"><stop offset="0" stop-color="#f0c822"/><stop offset="1" stop-color="#f0b818"/></linearGradient>
<linearGradient id="tl"><stop offset="0" stop-color="#bc2585"/><stop offset="1" stop-color="#b92486"/></linearGradient>
<linearGradient id="tr" x1="0" y1="1" x2="0.8" y2="0"><stop offset="0.00" stop-color="#540a96"/><stop offset="0.15" stop-color="#420c83"/><stop offset="0.30" stop-color="#300e70"/><stop offset="0.50" stop-color="#290f6a"/><stop offset="0.75" stop-color="#240f66"/><stop offset="1.00" stop-color="#211063"/></linearGradient>
<linearGradient id="cb" x2="0" y2="1"><stop offset="0.0000" stop-color="#1c1148"/><stop offset="0.0143" stop-color="#1d114d"/><stop offset="0.0286" stop-color="#1d1152"/><stop offset="0.0429" stop-color="#1e1058"/><stop offset="0.0571" stop-color="#1e105d"/><stop offset="0.0714" stop-color="#1f1062"/><stop offset="0.0857" stop-color="#221065"/><stop offset="0.1000" stop-color="#260f68"/><stop offset="0.1143" stop-color="#290f6a"/><stop offset="0.1286" stop-color="#2d0e6d"/><stop offset="0.1429" stop-color="#300e70"/><stop offset="0.1571" stop-color="#370d78"/><stop offset="0.1714" stop-color="#3e0c7f"/><stop offset="0.1857" stop-color="#460c87"/><stop offset="0.2000" stop-color="#4d0b8e"/><stop offset="0.2143" stop-color="#540a96"/><stop offset="0.2286" stop-color="#610d94"/><stop offset="0.2429" stop-color="#6e1093"/><stop offset="0.2571" stop-color="#7c1291"/><stop offset="0.2714" stop-color="#891590"/><stop offset="0.2857" stop-color="#96188e"/><stop offset="0.3000" stop-color="#9e1b8c"/><stop offset="0.3143" stop-color="#a71e8a"/><stop offset="0.3286" stop-color="#af2088"/><stop offset="0.3429" stop-color="#b82386"/><stop offset="0.3571" stop-color="#c02684"/><stop offset="0.3714" stop-color="#c32b7d"/><stop offset="0.3857" stop-color="#c63076"/><stop offset="0.4000" stop-color="#ca3470"/><stop offset="0.4143" stop-color="#cd3969"/><stop offset="0.4286" stop-color="#d03e62"/><stop offset="0.4429" stop-color="#d44659"/><stop offset="0.4571" stop-color="#d74e50"/><stop offset="0.4714" stop-color="#db5646"/><stop offset="0.4857" stop-color="#de5e3d"/><stop offset="0.5000" stop-color="#e26634"/><stop offset="0.5143" stop-color="#e46e2d"/><stop offset="0.5286" stop-color="#e77526"/><stop offset="0.5429" stop-color="#e97d1e"/><stop offset="0.5571" stop-color="#ec8417"/><stop offset="0.5714" stop-color="#ee8c10"/><stop offset="0.5857" stop-color="#ee9110"/><stop offset="0.6000" stop-color="#ef960f"/><stop offset="0.6143" stop-color="#ef9a0f"/><stop offset="0.6286" stop-color="#f09f0e"/><stop offset="0.6429" stop-color="#f0a40e"/><stop offset="0.6571" stop-color="#f0a810"/><stop offset="0.6714" stop-color="#f0ac12"/><stop offset="0.6857" stop-color="#f0b014"/><stop offset="0.7000" stop-color="#f0b416"/><stop offset="0.7143" stop-color="#f0b818"/><stop offset="0.7286" stop-color="#f0bb1b"/><stop offset="0.7429" stop-color="#efbe1e"/><stop offset="0.7571" stop-color="#efc222"/><stop offset="0.7714" stop-color="#eec525"/><stop offset="0.7857" stop-color="#eec828"/><stop offset="0.8000" stop-color="#edcb33"/><stop offset="0.8143" stop-color="#ecce3e"/><stop offset="0.8286" stop-color="#ead049"/><stop offset="0.8429" stop-color="#e9d354"/><stop offset="0.8571" stop-color="#e8d65f"/><stop offset="0.8714" stop-color="#e8da6d"/><stop offset="0.8857" stop-color="#e8de7b"/><stop offset="0.9000" stop-color="#e8e188"/><stop offset="0.9143" stop-color="#e9e294"/><stop offset="0.9286" stop-color="#e9e4a0"/><stop offset="0.9429" stop-color="#eae6b0"/><stop offset="0.9571" stop-color="#ebe9c0"/><stop offset="0.9714" stop-color="#edebcf"/><stop offset="0.9857" stop-color="#eeeede"/><stop offset="1.0000" stop-color="#f0f0ec"/></linearGradient>
</defs>
<rect width="2070" height="1217" fill="#fff"/>
<g id="a1">
<rect x="217.80" y="150.54" width="245.75" height="383.76" fill="#f0b818"/>
<rect x="223.70" y="111.18" width="68.81" height="39.36" fill="url(#ta)"/>
<rect x="388.84" y="111.18" width="68.81" height="39.36" fill="url(#ta)"/>
<path d="M217.80 150.54H463.55V534.30H217.80ZM223.70 150.54V111.18H292.51V150.54M388.84 150.54V111.18H457.65V150.54" fill="none" stroke="#111" stroke-width="1.6" stroke-linejoin="round"/>
<path d="M193.70 78.00H488.40V567.90H193.70ZM217.80 78.00v10.0M217.80 567.90v-10.0M316.10 78.00v10.0M316.10 567.90v-10.0M414.40 78.00v10.0M414.40 567.90v-10.0M193.70 534.30h10.0M488.40 534.30h-10.0M193.70 494.94h10.0M488.40 494.94h-10.0M193.70 455.58h10.0M488.40 455.58h-10.0M193.70 416.22h10.0M488.40 416.22h-10.0M193.70 376.86h10.0M488.40 376.86h-10.0M193.70 337.50h10.0M488.40 337.50h-10.0M193.70 298.14h10.0M488.40 298.14h-10.0M193.70 258.78h10.0M488.40 258.78h-10.0M193.70 219.42h10.0M488.40 219.42h-10.0M193.70 180.06h10.0M488.40 180.06h-10.0M193.70 140.70h10.0M488.40 140.70h-10.0M193.70 101.34h10.0M488.40 101.34h-10.0" fill="none" stroke="#262626" stroke-width="1.8"/>
<text transform="translate(187.50 542.73) scale(1.1539 1)" font-size="22.18" text-anchor="end" stroke="#000" stroke-width="0.55" stroke-linejoin="round">0</text>
<text transform="translate(187.50 503.37) scale(1.1539 1)" font-size="22.18" text-anchor="end" stroke="#000" stroke-width="0.55" stroke-linejoin="round">20</text>
<text transform="translate(187.50 464.01) scale(1.1539 1)" font-size="22.18" text-anchor="end" stroke="#000" stroke-width="0.55" stroke-linejoin="round">40</text>
<text transform="translate(187.50 424.65) scale(1.1539 1)" font-size="22.18" text-anchor="end" stroke="#000" stroke-width="0.55" stroke-linejoin="round">60</text>
<text transform="translate(187.50 385.29) scale(1.1539 1)" font-size="22.18" text-anchor="end" stroke="#000" stroke-width="0.55" stroke-linejoin="round">80</text>
<text transform="translate(187.50 345.93) scale(1.1539 1)" font-size="22.18" text-anchor="end" stroke="#000" stroke-width="0.55" stroke-linejoin="round">100</text>
<text transform="translate(187.50 306.57) scale(1.1539 1)" font-size="22.18" text-anchor="end" stroke="#000" stroke-width="0.55" stroke-linejoin="round">120</text>
<text transform="translate(187.50 267.21) scale(1.1539 1)" font-size="22.18" text-anchor="end" stroke="#000" stroke-width="0.55" stroke-linejoin="round">140</text>
<text transform="translate(187.50 227.85) scale(1.1539 1)" font-size="22.18" text-anchor="end" stroke="#000" stroke-width="0.55" stroke-linejoin="round">160</text>
<text transform="translate(187.50 188.49) scale(1.1539 1)" font-size="22.18" text-anchor="end" stroke="#000" stroke-width="0.55" stroke-linejoin="round">180</text>
<text transform="translate(187.50 149.13) scale(1.1539 1)" font-size="22.18" text-anchor="end" stroke="#000" stroke-width="0.55" stroke-linejoin="round">200</text>
<text transform="translate(187.50 109.77) scale(1.1539 1)" font-size="22.18" text-anchor="end" stroke="#000" stroke-width="0.55" stroke-linejoin="round">220</text>
<text transform="translate(217.83 594.65) scale(1.1247 1)" font-size="22.18" text-anchor="middle" stroke="#000" stroke-width="0.55" stroke-linejoin="round">0</text>
<text transform="translate(316.13 594.65) scale(1.1247 1)" font-size="22.18" text-anchor="middle" stroke="#000" stroke-width="0.55" stroke-linejoin="round">50</text>
<text transform="translate(414.43 594.65) scale(1.1247 1)" font-size="22.18" text-anchor="middle" stroke="#000" stroke-width="0.55" stroke-linejoin="round">100</text>
<text transform="translate(115.21 85.46) scale(1.1393 1)" font-size="19.02" stroke="#000" stroke-width="0.55" stroke-linejoin="round">mm</text>
<text transform="translate(453.63 594.80) scale(1.1974 1)" font-size="18.26" stroke="#000" stroke-width="0.55" stroke-linejoin="round">mm</text>
</g>
<g id="a2">
<rect x="806.20" y="138.28" width="252.00" height="392.93" fill="#f0b818"/>
<rect x="812.25" y="97.98" width="70.56" height="40.30" fill="#f0b818"/>
<rect x="981.59" y="97.98" width="70.56" height="40.30" fill="#f0b818"/>
<path d="M806.20 138.28H1058.20V531.20H806.20ZM812.25 138.28V97.98H882.81V138.28M981.59 138.28V97.98H1052.15V138.28" fill="none" stroke="#111" stroke-width="1.6" stroke-linejoin="round"/>
<path d="M781.20 64.00H1083.40V565.40H781.20ZM806.20 64.00v10.0M806.20 565.40v-10.0M907.00 64.00v10.0M907.00 565.40v-10.0M1007.80 64.00v10.0M1007.80 565.40v-10.0M781.20 531.20h10.0M1083.40 531.20h-10.0M781.20 490.90h10.0M1083.40 490.90h-10.0M781.20 450.60h10.0M1083.40 450.60h-10.0M781.20 410.30h10.0M1083.40 410.30h-10.0M781.20 370.00h10.0M1083.40 370.00h-10.0M781.20 329.70h10.0M1083.40 329.70h-10.0M781.20 289.40h10.0M1083.40 289.40h-10.0M781.20 249.10h10.0M1083.40 249.10h-10.0M781.20 208.80h10.0M1083.40 208.80h-10.0M781.20 168.50h10.0M1083.40 168.50h-10.0M781.20 128.20h10.0M1083.40 128.20h-10.0M781.20 87.90h10.0M1083.40 87.90h-10.0" fill="none" stroke="#262626" stroke-width="1.8"/>
<text transform="translate(774.44 538.53) scale(1.1689 1)" font-size="22.18" text-anchor="end" stroke="#000" stroke-width="0.55" stroke-linejoin="round">0</text>
<text transform="translate(774.44 498.23) scale(1.1689 1)" font-size="22.18" text-anchor="end" stroke="#000" stroke-width="0.55" stroke-linejoin="round">20</text>
<text transform="translate(774.44 457.93) scale(1.1689 1)" font-size="22.18" text-anchor="end" stroke="#000" stroke-width="0.55" stroke-linejoin="round">40</text>
<text transform="translate(774.44 417.63) scale(1.1689 1)" font-size="22.18" text-anchor="end" stroke="#000" stroke-width="0.55" stroke-linejoin="round">60</text>
<text transform="translate(774.44 377.33) scale(1.1689 1)" font-size="22.18" text-anchor="end" stroke="#000" stroke-width="0.55" stroke-linejoin="round">80</text>
<text transform="translate(774.44 337.03) scale(1.1689 1)" font-size="22.18" text-anchor="end" stroke="#000" stroke-width="0.55" stroke-linejoin="round">100</text>
<text transform="translate(774.44 296.73) scale(1.1689 1)" font-size="22.18" text-anchor="end" stroke="#000" stroke-width="0.55" stroke-linejoin="round">120</text>
<text transform="translate(774.44 256.43) scale(1.1689 1)" font-size="22.18" text-anchor="end" stroke="#000" stroke-width="0.55" stroke-linejoin="round">140</text>
<text transform="translate(774.44 216.13) scale(1.1689 1)" font-size="22.18" text-anchor="end" stroke="#000" stroke-width="0.55" stroke-linejoin="round">160</text>
<text transform="translate(774.44 175.83) scale(1.1689 1)" font-size="22.18" text-anchor="end" stroke="#000" stroke-width="0.55" stroke-linejoin="round">180</text>
<text transform="translate(774.44 135.53) scale(1.1689 1)" font-size="22.18" text-anchor="end" stroke="#000" stroke-width="0.55" stroke-linejoin="round">200</text>
<text transform="translate(774.44 95.23) scale(1.1689 1)" font-size="22.18" text-anchor="end" stroke="#000" stroke-width="0.55" stroke-linejoin="round">220</text>
<text transform="translate(806.03 593.68) scale(1.1481 1)" font-size="22.47" text-anchor="middle" stroke="#000" stroke-width="0.55" stroke-linejoin="round">0</text>
<text transform="translate(906.83 593.68) scale(1.1481 1)" font-size="22.47" text-anchor="middle" stroke="#000" stroke-width="0.55" stroke-linejoin="round">50</text>
<text transform="translate(1007.63 593.68) scale(1.1481 1)" font-size="22.47" text-anchor="middle" stroke="#000" stroke-width="0.55" stroke-linejoin="round">100</text>
<text transform="translate(700.98 71.35) scale(1.1553 1)" font-size="19.22" stroke="#000" stroke-width="0.55" stroke-linejoin="round">mm</text>
<text transform="translate(1047.55 593.36) scale(1.1721 1)" font-size="19.22" stroke="#000" stroke-width="0.55" stroke-linejoin="round">mm</text>
</g>
<g id="a3">
<rect x="1352.60" y="139.87" width="256.50" height="400.53" fill="#f0b818"/>
<rect x="1358.76" y="98.79" width="71.82" height="41.08" fill="#f0b818"/>
<rect x="1531.12" y="98.79" width="71.82" height="41.08" fill="#f0b818"/>
<path d="M1352.60 139.87H1609.10V540.40H1352.60ZM1358.76 139.87V98.79H1430.58V139.87M1531.12 139.87V98.79H1602.94V139.87" fill="none" stroke="#111" stroke-width="1.6" stroke-linejoin="round"/>
<path d="M1327.10 64.20H1634.70V575.10H1327.10ZM1352.60 64.20v10.0M1352.60 575.10v-10.0M1455.20 64.20v10.0M1455.20 575.10v-10.0M1557.80 64.20v10.0M1557.80 575.10v-10.0M1327.10 540.40h10.0M1634.70 540.40h-10.0M1327.10 499.32h10.0M1634.70 499.32h-10.0M1327.10 458.24h10.0M1634.70 458.24h-10.0M1327.10 417.16h10.0M1634.70 417.16h-10.0M1327.10 376.08h10.0M1634.70 376.08h-10.0M1327.10 335.00h10.0M1634.70 335.00h-10.0M1327.10 293.92h10.0M1634.70 293.92h-10.0M1327.10 252.84h10.0M1634.70 252.84h-10.0M1327.10 211.76h10.0M1634.70 211.76h-10.0M1327.10 170.68h10.0M1634.70 170.68h-10.0M1327.10 129.60h10.0M1634.70 129.60h-10.0M1327.10 88.52h10.0M1634.70 88.52h-10.0" fill="none" stroke="#262626" stroke-width="1.8"/>
<text transform="translate(1320.41 547.96) scale(1.1838 1)" font-size="22.62" text-anchor="end" stroke="#000" stroke-width="0.55" stroke-linejoin="round">0</text>
<text transform="translate(1320.41 506.88) scale(1.1838 1)" font-size="22.62" text-anchor="end" stroke="#000" stroke-width="0.55" stroke-linejoin="round">20</text>
<text transform="translate(1320.41 465.80) scale(1.1838 1)" font-size="22.62" text-anchor="end" stroke="#000" stroke-width="0.55" stroke-linejoin="round">40</text>
<text transform="translate(1320.41 424.72) scale(1.1838 1)" font-size="22.62" text-anchor="end" stroke="#000" stroke-width="0.55" stroke-linejoin="round">60</text>
<text transform="translate(1320.41 383.64) scale(1.1838 1)" font-size="22.62" text-anchor="end" stroke="#000" stroke-width="0.55" stroke-linejoin="round">80</text>
<text transform="translate(1320.41 342.56) scale(1.1838 1)" font-size="22.62" text-anchor="end" stroke="#000" stroke-width="0.55" stroke-linejoin="round">100</text>
<text transform="translate(1320.41 301.48) scale(1.1838 1)" font-size="22.62" text-anchor="end" stroke="#000" stroke-width="0.55" stroke-linejoin="round">120</text>
<text transform="translate(1320.41 260.40) scale(1.1838 1)" font-size="22.62" text-anchor="end" stroke="#000" stroke-width="0.55" stroke-linejoin="round">140</text>
<text transform="translate(1320.41 219.32) scale(1.1838 1)" font-size="22.62" text-anchor="end" stroke="#000" stroke-width="0.55" stroke-linejoin="round">160</text>
<text transform="translate(1320.41 178.24) scale(1.1838 1)" font-size="22.62" text-anchor="end" stroke="#000" stroke-width="0.55" stroke-linejoin="round">180</text>
<text transform="translate(1320.41 137.16) scale(1.1838 1)" font-size="22.62" text-anchor="end" stroke="#000" stroke-width="0.55" stroke-linejoin="round">200</text>
<text transform="translate(1320.41 96.08) scale(1.1838 1)" font-size="22.62" text-anchor="end" stroke="#000" stroke-width="0.55" stroke-linejoin="round">220</text>
<text transform="translate(1352.42 603.68) scale(1.1773 1)" font-size="22.47" text-anchor="middle" stroke="#000" stroke-width="0.55" stroke-linejoin="round">0</text>
<text transform="translate(1455.02 603.68) scale(1.1773 1)" font-size="22.47" text-anchor="middle" stroke="#000" stroke-width="0.55" stroke-linejoin="round">50</text>
<text transform="translate(1557.62 603.68) scale(1.1773 1)" font-size="22.47" text-anchor="middle" stroke="#000" stroke-width="0.55" stroke-linejoin="round">100</text>
<text transform="translate(1245.32 71.86) scale(1.1610 1)" font-size="19.22" stroke="#000" stroke-width="0.55" stroke-linejoin="round">mm</text>
<text transform="translate(1598.55 603.48) scale(1.2085 1)" font-size="18.64" stroke="#000" stroke-width="0.55" stroke-linejoin="round">mm</text>
</g>
<g id="b1">
<rect x="214.80" y="743.37" width="249.38" height="388.63" fill="#f0b818"/>
<rect x="220.79" y="703.50" width="69.82" height="39.86" fill="#f0b818"/>
<rect x="388.37" y="703.50" width="69.83" height="39.86" fill="#f0b818"/>
<path d="M214.80 743.37H464.18V1132.00H214.80ZM220.79 743.37V703.50H290.61V743.37M388.37 743.37V703.50H458.19V743.37" fill="none" stroke="#111" stroke-width="1.6" stroke-linejoin="round"/>
<path d="M184.20 659.40H495.40V1175.90H184.20ZM214.80 659.40v10.0M214.80 1175.90v-10.0M314.55 659.40v10.0M314.55 1175.90v-10.0M414.30 659.40v10.0M414.30 1175.90v-10.0M184.20 1171.86h10.0M495.40 1171.86h-10.0M184.20 1132.00h10.0M495.40 1132.00h-10.0M184.20 1092.14h10.0M495.40 1092.14h-10.0M184.20 1052.28h10.0M495.40 1052.28h-10.0M184.20 1012.42h10.0M495.40 1012.42h-10.0M184.20 972.56h10.0M495.40 972.56h-10.0M184.20 932.70h10.0M495.40 932.70h-10.0M184.20 892.84h10.0M495.40 892.84h-10.0M184.20 852.98h10.0M495.40 852.98h-10.0M184.20 813.12h10.0M495.40 813.12h-10.0M184.20 773.26h10.0M495.40 773.26h-10.0M184.20 733.40h10.0M495.40 733.40h-10.0M184.20 693.54h10.0M495.40 693.54h-10.0" fill="none" stroke="#262626" stroke-width="1.8"/>
<text transform="translate(177.50 1179.90) scale(1.1799 1)" font-size="22.62" text-anchor="end" stroke="#000" stroke-width="0.55" stroke-linejoin="round">-20</text>
<text transform="translate(177.50 1140.04) scale(1.1799 1)" font-size="22.62" text-anchor="end" stroke="#000" stroke-width="0.55" stroke-linejoin="round">0</text>
<text transform="translate(177.50 1100.18) scale(1.1799 1)" font-size="22.62" text-anchor="end" stroke="#000" stroke-width="0.55" stroke-linejoin="round">20</text>
<text transform="translate(177.50 1060.32) scale(1.1799 1)" font-size="22.62" text-anchor="end" stroke="#000" stroke-width="0.55" stroke-linejoin="round">40</text>
<text transform="translate(177.50 1020.46) scale(1.1799 1)" font-size="22.62" text-anchor="end" stroke="#000" stroke-width="0.55" stroke-linejoin="round">60</text>
<text transform="translate(177.50 980.60) scale(1.1799 1)" font-size="22.62" text-anchor="end" stroke="#000" stroke-width="0.55" stroke-linejoin="round">80</text>
<text transform="translate(177.50 940.74) scale(1.1799 1)" font-size="22.62" text-anchor="end" stroke="#000" stroke-width="0.55" stroke-linejoin="round">100</text>
<text transform="translate(177.50 900.88) scale(1.1799 1)" font-size="22.62" text-anchor="end" stroke="#000" stroke-width="0.55" stroke-linejoin="round">120</text>
<text transform="translate(177.50 861.02) scale(1.1799 1)" font-size="22.62" text-anchor="end" stroke="#000" stroke-width="0.55" stroke-linejoin="round">140</text>
<text transform="translate(177.50 821.16) scale(1.1799 1)" font-size="22.62" text-anchor="end" stroke="#000" stroke-width="0.55" stroke-linejoin="round">160</text>
<text transform="translate(177.50 781.30) scale(1.1799 1)" font-size="22.62" text-anchor="end" stroke="#000" stroke-width="0.55" stroke-linejoin="round">180</text>
<text transform="translate(177.50 741.44) scale(1.1799 1)" font-size="22.62" text-anchor="end" stroke="#000" stroke-width="0.55" stroke-linejoin="round">200</text>
<text transform="translate(177.50 701.58) scale(1.1799 1)" font-size="22.62" text-anchor="end" stroke="#000" stroke-width="0.55" stroke-linejoin="round">220</text>
<text transform="translate(214.75 1204.52) scale(1.1761 1)" font-size="22.62" text-anchor="middle" stroke="#000" stroke-width="0.55" stroke-linejoin="round">0</text>
<text transform="translate(314.50 1204.52) scale(1.1761 1)" font-size="22.62" text-anchor="middle" stroke="#000" stroke-width="0.55" stroke-linejoin="round">50</text>
<text transform="translate(414.25 1204.52) scale(1.1761 1)" font-size="22.62" text-anchor="middle" stroke="#000" stroke-width="0.55" stroke-linejoin="round">100</text>
<text transform="translate(101.45 667.00) scale(1.2110 1)" font-size="19.02" stroke="#000" stroke-width="0.55" stroke-linejoin="round">mm</text>
<text transform="translate(458.53 1204.34) scale(1.1810 1)" font-size="19.22" stroke="#000" stroke-width="0.55" stroke-linejoin="round">mm</text>
</g>
<g id="b2">
<clipPath id="clip_b2"><rect x="804.00" y="743.37" width="249.12" height="388.63"/></clipPath>
<g clip-path="url(#clip_b2)"><g filter="url(#hb)">
<rect x="792.00" y="743.37" width="273.12" height="388.63" fill="url(#g0)"/>
<rect x="808.98" y="743.37" width="256.14" height="388.63" fill="url(#g1)"/>
<rect x="813.97" y="743.37" width="251.16" height="388.63" fill="url(#g2)"/>
<rect x="818.95" y="743.37" width="246.18" height="388.63" fill="url(#g3)"/>
<rect x="823.93" y="743.37" width="241.20" height="388.63" fill="url(#g4)"/>
<rect x="828.91" y="743.37" width="236.21" height="388.63" fill="url(#g5)"/>
<rect x="833.89" y="743.37" width="231.23" height="388.63" fill="url(#g6)"/>
<rect x="838.88" y="743.37" width="226.25" height="388.63" fill="url(#g7)"/>
<rect x="843.86" y="743.37" width="221.26" height="388.63" fill="url(#g8)"/>
<rect x="848.84" y="743.37" width="216.28" height="388.63" fill="url(#g9)"/>
<rect x="853.83" y="743.37" width="211.30" height="388.63" fill="url(#g10)"/>
<rect x="858.81" y="743.37" width="206.32" height="388.63" fill="url(#g11)"/>
<rect x="863.79" y="743.37" width="201.34" height="388.63" fill="url(#g12)"/>
<rect x="868.77" y="743.37" width="196.35" height="388.63" fill="url(#g13)"/>
<rect x="873.75" y="743.37" width="191.37" height="388.63" fill="url(#g14)"/>
<rect x="878.74" y="743.37" width="186.39" height="388.63" fill="url(#g15)"/>
<rect x="883.72" y="743.37" width="181.40" height="388.63" fill="url(#g16)"/>
<rect x="888.70" y="743.37" width="176.42" height="388.63" fill="url(#g17)"/>
<rect x="893.68" y="743.37" width="171.44" height="388.63" fill="url(#g18)"/>
<rect x="898.67" y="743.37" width="166.46" height="388.63" fill="url(#g19)"/>
<rect x="903.65" y="743.37" width="161.48" height="388.63" fill="url(#g20)"/>
<rect x="908.63" y="743.37" width="156.49" height="388.63" fill="url(#g21)"/>
<rect x="913.62" y="743.37" width="151.51" height="388.63" fill="url(#g22)"/>
<rect x="918.60" y="743.37" width="146.53" height="388.63" fill="url(#g23)"/>
<rect x="923.58" y="743.37" width="141.54" height="388.63" fill="url(#g24)"/>
<rect x="928.56" y="743.37" width="136.56" height="388.63" fill="url(#g25)"/>
<rect x="933.54" y="743.37" width="131.58" height="388.63" fill="url(#g26)"/>
<rect x="938.53" y="743.37" width="126.60" height="388.63" fill="url(#g27)"/>
<rect x="943.51" y="743.37" width="121.62" height="388.63" fill="url(#g28)"/>
<rect x="948.49" y="743.37" width="116.63" height="388.63" fill="url(#g29)"/>
<rect x="953.48" y="743.37" width="111.65" height="388.63" fill="url(#g30)"/>
<rect x="958.46" y="743.37" width="106.67" height="388.63" fill="url(#g31)"/>
<rect x="963.44" y="743.37" width="101.68" height="388.63" fill="url(#g32)"/>
<rect x="968.42" y="743.37" width="96.70" height="388.63" fill="url(#g33)"/>
<rect x="973.40" y="743.37" width="91.72" height="388.63" fill="url(#g34)"/>
<rect x="978.39" y="743.37" width="86.74" height="388.63" fill="url(#g35)"/>
<rect x="983.37" y="743.37" width="81.75" height="388.63" fill="url(#g36)"/>
<rect x="988.35" y="743.37" width="76.77" height="388.63" fill="url(#g37)"/>
<rect x="993.34" y="743.37" width="71.79" height="388.63" fill="url(#g38)"/>
<rect x="998.32" y="743.37" width="66.81" height="388.63" fill="url(#g39)"/>
<rect x="1003.30" y="743.37" width="61.83" height="388.63" fill="url(#g40)"/>
<rect x="1008.28" y="743.37" width="56.84" height="388.63" fill="url(#g41)"/>
<rect x="1013.26" y="743.37" width="51.86" height="388.63" fill="url(#g42)"/>
<rect x="1018.25" y="743.37" width="46.88" height="388.63" fill="url(#g43)"/>
<rect x="1023.23" y="743.37" width="41.89" height="388.63" fill="url(#g44)"/>
<rect x="1028.21" y="743.37" width="36.91" height="388.63" fill="url(#g45)"/>
<rect x="1033.19" y="743.37" width="31.93" height="388.63" fill="url(#g46)"/>
<rect x="1038.18" y="743.37" width="26.95" height="388.63" fill="url(#g47)"/>
<rect x="1043.16" y="743.37" width="21.96" height="388.63" fill="url(#g48)"/>
<rect x="1048.14" y="743.37" width="16.98" height="388.63" fill="url(#g49)"/>
</g></g>
<rect x="809.98" y="703.50" width="69.75" height="39.86" fill="url(#tl)"/>
<rect x="977.39" y="703.50" width="69.75" height="39.86" fill="url(#tr)"/>
<path d="M804.00 743.37H1053.12V1132.00H804.00ZM809.98 743.37V703.50H879.73V743.37M977.39 743.37V703.50H1047.15V743.37" fill="none" stroke="#111" stroke-width="1.6" stroke-linejoin="round"/>
<path d="M773.20 659.40H1084.10V1175.90H773.20ZM804.00 659.40v10.0M804.00 1175.90v-10.0M903.65 659.40v10.0M903.65 1175.90v-10.0M1003.30 659.40v10.0M1003.30 1175.90v-10.0M773.20 1171.86h10.0M1084.10 1171.86h-10.0M773.20 1132.00h10.0M1084.10 1132.00h-10.0M773.20 1092.14h10.0M1084.10 1092.14h-10.0M773.20 1052.28h10.0M1084.10 1052.28h-10.0M773.20 1012.42h10.0M1084.10 1012.42h-10.0M773.20 972.56h10.0M1084.10 972.56h-10.0M773.20 932.70h10.0M1084.10 932.70h-10.0M773.20 892.84h10.0M1084.10 892.84h-10.0M773.20 852.98h10.0M1084.10 852.98h-10.0M773.20 813.12h10.0M1084.10 813.12h-10.0M773.20 773.26h10.0M1084.10 773.26h-10.0M773.20 733.40h10.0M1084.10 733.40h-10.0M773.20 693.54h10.0M1084.10 693.54h-10.0" fill="none" stroke="#262626" stroke-width="1.8"/>
<text transform="translate(766.50 1179.90) scale(1.1799 1)" font-size="22.62" text-anchor="end" stroke="#000" stroke-width="0.55" stroke-linejoin="round">-20</text>
<text transform="translate(766.50 1140.04) scale(1.1799 1)" font-size="22.62" text-anchor="end" stroke="#000" stroke-width="0.55" stroke-linejoin="round">0</text>
<text transform="translate(766.50 1100.18) scale(1.1799 1)" font-size="22.62" text-anchor="end" stroke="#000" stroke-width="0.55" stroke-linejoin="round">20</text>
<text transform="translate(766.50 1060.32) scale(1.1799 1)" font-size="22.62" text-anchor="end" stroke="#000" stroke-width="0.55" stroke-linejoin="round">40</text>
<text transform="translate(766.50 1020.46) scale(1.1799 1)" font-size="22.62" text-anchor="end" stroke="#000" stroke-width="0.55" stroke-linejoin="round">60</text>
<text transform="translate(766.50 980.60) scale(1.1799 1)" font-size="22.62" text-anchor="end" stroke="#000" stroke-width="0.55" stroke-linejoin="round">80</text>
<text transform="translate(766.50 940.74) scale(1.1799 1)" font-size="22.62" text-anchor="end" stroke="#000" stroke-width="0.55" stroke-linejoin="round">100</text>
<text transform="translate(766.50 900.88) scale(1.1799 1)" font-size="22.62" text-anchor="end" stroke="#000" stroke-width="0.55" stroke-linejoin="round">120</text>
<text transform="translate(766.50 861.02) scale(1.1799 1)" font-size="22.62" text-anchor="end" stroke="#000" stroke-width="0.55" stroke-linejoin="round">140</text>
<text transform="translate(766.50 821.16) scale(1.1799 1)" font-size="22.62" text-anchor="end" stroke="#000" stroke-width="0.55" stroke-linejoin="round">160</text>
<text transform="translate(766.50 781.30) scale(1.1799 1)" font-size="22.62" text-anchor="end" stroke="#000" stroke-width="0.55" stroke-linejoin="round">180</text>
<text transform="translate(766.50 741.44) scale(1.1799 1)" font-size="22.62" text-anchor="end" stroke="#000" stroke-width="0.55" stroke-linejoin="round">200</text>
<text transform="translate(766.50 701.58) scale(1.1799 1)" font-size="22.62" text-anchor="end" stroke="#000" stroke-width="0.55" stroke-linejoin="round">220</text>
<text transform="translate(803.95 1204.51) scale(1.1750 1)" font-size="22.62" text-anchor="middle" stroke="#000" stroke-width="0.55" stroke-linejoin="round">0</text>
<text transform="translate(903.60 1204.51) scale(1.1750 1)" font-size="22.62" text-anchor="middle" stroke="#000" stroke-width="0.55" stroke-linejoin="round">50</text>
<text transform="translate(1003.25 1204.51) scale(1.1750 1)" font-size="22.62" text-anchor="middle" stroke="#000" stroke-width="0.55" stroke-linejoin="round">100</text>
<text transform="translate(690.45 667.00) scale(1.2110 1)" font-size="19.02" stroke="#000" stroke-width="0.55" stroke-linejoin="round">mm</text>
<text transform="translate(1047.53 1204.34) scale(1.1810 1)" font-size="19.22" stroke="#000" stroke-width="0.55" stroke-linejoin="round">mm</text>
</g>
<g id="b3">
<clipPath id="clip_b3"><rect x="1357.70" y="743.37" width="249.50" height="388.63"/></clipPath>
<g clip-path="url(#clip_b3)"><g filter="url(#hb)">
<rect x="1345.70" y="743.37" width="273.50" height="388.63" fill="url(#g0)"/>
<rect x="1362.69" y="743.37" width="256.51" height="388.63" fill="url(#g1)"/>
<rect x="1367.68" y="743.37" width="251.52" height="388.63" fill="url(#g2)"/>
<rect x="1372.67" y="743.37" width="246.53" height="388.63" fill="url(#g3)"/>
<rect x="1377.66" y="743.37" width="241.54" height="388.63" fill="url(#g4)"/>
<rect x="1382.65" y="743.37" width="236.55" height="388.63" fill="url(#g5)"/>
<rect x="1387.64" y="743.37" width="231.56" height="388.63" fill="url(#g6)"/>
<rect x="1392.63" y="743.37" width="226.57" height="388.63" fill="url(#g7)"/>
<rect x="1397.62" y="743.37" width="221.58" height="388.63" fill="url(#g8)"/>
<rect x="1402.61" y="743.37" width="216.59" height="388.63" fill="url(#g9)"/>
<rect x="1407.60" y="743.37" width="211.60" height="388.63" fill="url(#g10)"/>
<rect x="1412.59" y="743.37" width="206.61" height="388.63" fill="url(#g11)"/>
<rect x="1417.58" y="743.37" width="201.62" height="388.63" fill="url(#g12)"/>
<rect x="1422.57" y="743.37" width="196.63" height="388.63" fill="url(#g13)"/>
<rect x="1427.56" y="743.37" width="191.64" height="388.63" fill="url(#g14)"/>
<rect x="1432.55" y="743.37" width="186.65" height="388.63" fill="url(#g15)"/>
<rect x="1437.54" y="743.37" width="181.66" height="388.63" fill="url(#g16)"/>
<rect x="1442.53" y="743.37" width="176.67" height="388.63" fill="url(#g17)"/>
<rect x="1447.52" y="743.37" width="171.68" height="388.63" fill="url(#g18)"/>
<rect x="1452.51" y="743.37" width="166.69" height="388.63" fill="url(#g19)"/>
<rect x="1457.50" y="743.37" width="161.70" height="388.63" fill="url(#g20)"/>
<rect x="1462.49" y="743.37" width="156.71" height="388.63" fill="url(#g21)"/>
<rect x="1467.48" y="743.37" width="151.72" height="388.63" fill="url(#g22)"/>
<rect x="1472.47" y="743.37" width="146.73" height="388.63" fill="url(#g23)"/>
<rect x="1477.46" y="743.37" width="141.74" height="388.63" fill="url(#g24)"/>
<rect x="1482.45" y="743.37" width="136.75" height="388.63" fill="url(#g25)"/>
<rect x="1487.44" y="743.37" width="131.76" height="388.63" fill="url(#g26)"/>
<rect x="1492.43" y="743.37" width="126.77" height="388.63" fill="url(#g27)"/>
<rect x="1497.42" y="743.37" width="121.78" height="388.63" fill="url(#g28)"/>
<rect x="1502.41" y="743.37" width="116.79" height="388.63" fill="url(#g29)"/>
<rect x="1507.40" y="743.37" width="111.80" height="388.63" fill="url(#g30)"/>
<rect x="1512.39" y="743.37" width="106.81" height="388.63" fill="url(#g31)"/>
<rect x="1517.38" y="743.37" width="101.82" height="388.63" fill="url(#g32)"/>
<rect x="1522.37" y="743.37" width="96.83" height="388.63" fill="url(#g33)"/>
<rect x="1527.36" y="743.37" width="91.84" height="388.63" fill="url(#g34)"/>
<rect x="1532.35" y="743.37" width="86.85" height="388.63" fill="url(#g35)"/>
<rect x="1537.34" y="743.37" width="81.86" height="388.63" fill="url(#g36)"/>
<rect x="1542.33" y="743.37" width="76.87" height="388.63" fill="url(#g37)"/>
<rect x="1547.32" y="743.37" width="71.88" height="388.63" fill="url(#g38)"/>
<rect x="1552.31" y="743.37" width="66.89" height="388.63" fill="url(#g39)"/>
<rect x="1557.30" y="743.37" width="61.90" height="388.63" fill="url(#g40)"/>
<rect x="1562.29" y="743.37" width="56.91" height="388.63" fill="url(#g41)"/>
<rect x="1567.28" y="743.37" width="51.92" height="388.63" fill="url(#g42)"/>
<rect x="1572.27" y="743.37" width="46.93" height="388.63" fill="url(#g43)"/>
<rect x="1577.26" y="743.37" width="41.94" height="388.63" fill="url(#g44)"/>
<rect x="1582.25" y="743.37" width="36.95" height="388.63" fill="url(#g45)"/>
<rect x="1587.24" y="743.37" width="31.96" height="388.63" fill="url(#g46)"/>
<rect x="1592.23" y="743.37" width="26.97" height="388.63" fill="url(#g47)"/>
<rect x="1597.22" y="743.37" width="21.98" height="388.63" fill="url(#g48)"/>
<rect x="1602.21" y="743.37" width="16.99" height="388.63" fill="url(#g49)"/>
</g></g>
<rect x="1363.69" y="703.50" width="69.86" height="39.86" fill="url(#tl)"/>
<rect x="1531.35" y="703.50" width="69.86" height="39.86" fill="url(#tr)"/>
<path d="M1357.70 743.37H1607.20V1132.00H1357.70ZM1363.69 743.37V703.50H1433.55V743.37M1531.35 743.37V703.50H1601.21V743.37" fill="none" stroke="#111" stroke-width="1.6" stroke-linejoin="round"/>
<path d="M1326.90 659.40H1638.10V1175.90H1326.90ZM1357.70 659.40v10.0M1357.70 1175.90v-10.0M1457.50 659.40v10.0M1457.50 1175.90v-10.0M1557.30 659.40v10.0M1557.30 1175.90v-10.0M1326.90 1171.86h10.0M1638.10 1171.86h-10.0M1326.90 1132.00h10.0M1638.10 1132.00h-10.0M1326.90 1092.14h10.0M1638.10 1092.14h-10.0M1326.90 1052.28h10.0M1638.10 1052.28h-10.0M1326.90 1012.42h10.0M1638.10 1012.42h-10.0M1326.90 972.56h10.0M1638.10 972.56h-10.0M1326.90 932.70h10.0M1638.10 932.70h-10.0M1326.90 892.84h10.0M1638.10 892.84h-10.0M1326.90 852.98h10.0M1638.10 852.98h-10.0M1326.90 813.12h10.0M1638.10 813.12h-10.0M1326.90 773.26h10.0M1638.10 773.26h-10.0M1326.90 733.40h10.0M1638.10 733.40h-10.0M1326.90 693.54h10.0M1638.10 693.54h-10.0" fill="none" stroke="#262626" stroke-width="1.8"/>
<text transform="translate(1320.21 1179.83) scale(1.1927 1)" font-size="22.62" text-anchor="end" stroke="#000" stroke-width="0.55" stroke-linejoin="round">-20</text>
<text transform="translate(1320.21 1139.97) scale(1.1927 1)" font-size="22.62" text-anchor="end" stroke="#000" stroke-width="0.55" stroke-linejoin="round">0</text>
<text transform="translate(1320.21 1100.11) scale(1.1927 1)" font-size="22.62" text-anchor="end" stroke="#000" stroke-width="0.55" stroke-linejoin="round">20</text>
<text transform="translate(1320.21 1060.25) scale(1.1927 1)" font-size="22.62" text-anchor="end" stroke="#000" stroke-width="0.55" stroke-linejoin="round">40</text>
<text transform="translate(1320.21 1020.39) scale(1.1927 1)" font-size="22.62" text-anchor="end" stroke="#000" stroke-width="0.55" stroke-linejoin="round">60</text>
<text transform="translate(1320.21 980.53) scale(1.1927 1)" font-size="22.62" text-anchor="end" stroke="#000" stroke-width="0.55" stroke-linejoin="round">80</text>
<text transform="translate(1320.21 940.67) scale(1.1927 1)" font-size="22.62" text-anchor="end" stroke="#000" stroke-width="0.55" stroke-linejoin="round">100</text>
<text transform="translate(1320.21 900.81) scale(1.1927 1)" font-size="22.62" text-anchor="end" stroke="#000" stroke-width="0.55" stroke-linejoin="round">120</text>
<text transform="translate(1320.21 860.95) scale(1.1927 1)" font-size="22.62" text-anchor="end" stroke="#000" stroke-width="0.55" stroke-linejoin="round">140</text>
<text transform="translate(1320.21 821.09) scale(1.1927 1)" font-size="22.62" text-anchor="end" stroke="#000" stroke-width="0.55" stroke-linejoin="round">160</text>
<text transform="translate(1320.21 781.23) scale(1.1927 1)" font-size="22.62" text-anchor="end" stroke="#000" stroke-width="0.55" stroke-linejoin="round">180</text>
<text transform="translate(1320.21 741.37) scale(1.1927 1)" font-size="22.62" text-anchor="end" stroke="#000" stroke-width="0.55" stroke-linejoin="round">200</text>
<text transform="translate(1320.21 701.51) scale(1.1927 1)" font-size="22.62" text-anchor="end" stroke="#000" stroke-width="0.55" stroke-linejoin="round">220</text>
<text transform="translate(1357.65 1204.52) scale(1.1761 1)" font-size="22.62" text-anchor="middle" stroke="#000" stroke-width="0.55" stroke-linejoin="round">0</text>
<text transform="translate(1457.45 1204.52) scale(1.1761 1)" font-size="22.62" text-anchor="middle" stroke="#000" stroke-width="0.55" stroke-linejoin="round">50</text>
<text transform="translate(1557.25 1204.52) scale(1.1761 1)" font-size="22.62" text-anchor="middle" stroke="#000" stroke-width="0.55" stroke-linejoin="round">100</text>
<text transform="translate(1244.30 666.98) scale(1.1899 1)" font-size="19.02" stroke="#000" stroke-width="0.55" stroke-linejoin="round">mm</text>
<text transform="translate(1601.54 1204.35) scale(1.1774 1)" font-size="19.22" stroke="#000" stroke-width="0.55" stroke-linejoin="round">mm</text>
</g>
<g id="labels">
<text transform="translate(342.20 34.95) scale(0.9390 1)" font-size="43.94" text-anchor="middle" stroke="#000" stroke-width="0.35" stroke-linejoin="round">100% SOC</text>
<text transform="translate(924.72 30.94) scale(0.9382 1)" font-size="43.94" text-anchor="middle" stroke="#000" stroke-width="0.35" stroke-linejoin="round">50% SOC</text>
<text transform="translate(1481.04 30.96) scale(0.9421 1)" font-size="43.94" text-anchor="middle" stroke="#000" stroke-width="0.35" stroke-linejoin="round">0% SOC</text>
<text transform="translate(10.08 91.74) scale(1.0127 1)" font-size="41.73" stroke="#000" stroke-width="0.35" stroke-linejoin="round">(a1)</text>
<text transform="translate(608.75 91.74) scale(1.0093 1)" font-size="41.73" stroke="#000" stroke-width="0.35" stroke-linejoin="round">(a2)</text>
<text transform="translate(1154.94 92.44) scale(1.0111 1)" font-size="41.73" stroke="#000" stroke-width="0.35" stroke-linejoin="round">(a3)</text>
<text transform="translate(-1.49 684.95) scale(0.9807 1)" font-size="41.73" stroke="#000" stroke-width="0.35" stroke-linejoin="round">(b1)</text>
<text transform="translate(609.00 692.33) scale(0.9887 1)" font-size="41.73" stroke="#000" stroke-width="0.35" stroke-linejoin="round">(b2)</text>
<text transform="translate(1151.85 686.16) scale(0.9855 1)" font-size="41.73" stroke="#000" stroke-width="0.35" stroke-linejoin="round">(b3)</text>
<text transform="translate(540.77 328.10) scale(0.9556 1)" font-size="42.22" font-style="italic" stroke="#000" stroke-width="0.35" stroke-linejoin="round">T</text>
<text transform="translate(564.33 333.78) scale(1.0552 1)" font-size="24.98" stroke="#000" stroke-width="0.45" stroke-linejoin="round">ave</text>
<text transform="translate(619.72 326.72) scale(1.1609 1)" font-size="36.38" stroke="#000" stroke-width="0.35" stroke-linejoin="round">=</text>
<text transform="translate(591.02 377.72) scale(0.9979 1)" font-size="41.63" text-anchor="middle" stroke="#000" stroke-width="0.35" stroke-linejoin="round">298.2 K</text>
<text transform="translate(1112.98 328.10) scale(0.9553 1)" font-size="42.22" font-style="italic" stroke="#000" stroke-width="0.35" stroke-linejoin="round">T</text>
<text transform="translate(1136.51 333.75) scale(1.0447 1)" font-size="24.98" stroke="#000" stroke-width="0.45" stroke-linejoin="round">ave</text>
<text transform="translate(1191.77 326.70) scale(1.1639 1)" font-size="36.38" stroke="#000" stroke-width="0.35" stroke-linejoin="round">=</text>
<text transform="translate(1163.96 378.02) scale(0.9962 1)" font-size="41.53" text-anchor="middle" stroke="#000" stroke-width="0.35" stroke-linejoin="round">305.5 K</text>
<text transform="translate(1689.41 323.10) scale(0.9536 1)" font-size="42.22" font-style="italic" stroke="#000" stroke-width="0.35" stroke-linejoin="round">T</text>
<text transform="translate(1712.96 328.70) scale(1.0508 1)" font-size="24.98" stroke="#000" stroke-width="0.45" stroke-linejoin="round">ave</text>
<text transform="translate(1768.06 321.72) scale(1.1634 1)" font-size="36.38" stroke="#000" stroke-width="0.35" stroke-linejoin="round">=</text>
<text transform="translate(1740.45 374.05) scale(0.9975 1)" font-size="41.53" text-anchor="middle" stroke="#000" stroke-width="0.35" stroke-linejoin="round">316.6 K</text>
<text transform="translate(540.77 914.10) scale(0.9556 1)" font-size="42.22" font-style="italic" stroke="#000" stroke-width="0.35" stroke-linejoin="round">T</text>
<text transform="translate(564.33 918.78) scale(1.0552 1)" font-size="24.98" stroke="#000" stroke-width="0.45" stroke-linejoin="round">ave</text>
<text transform="translate(619.72 911.72) scale(1.1609 1)" font-size="36.38" stroke="#000" stroke-width="0.35" stroke-linejoin="round">=</text>
<text transform="translate(591.02 963.72) scale(0.9979 1)" font-size="41.63" text-anchor="middle" stroke="#000" stroke-width="0.35" stroke-linejoin="round">298.2 K</text>
<text transform="translate(1126.59 913.60) scale(0.9538 1)" font-size="42.22" font-style="italic" stroke="#000" stroke-width="0.35" stroke-linejoin="round">T</text>
<text transform="translate(1150.18 919.25) scale(1.0450 1)" font-size="24.98" stroke="#000" stroke-width="0.45" stroke-linejoin="round">ave</text>
<text transform="translate(1205.43 911.25) scale(1.1617 1)" font-size="36.38" stroke="#000" stroke-width="0.35" stroke-linejoin="round">=</text>
<text transform="translate(1177.73 964.04) scale(0.9977 1)" font-size="41.53" text-anchor="middle" stroke="#000" stroke-width="0.35" stroke-linejoin="round">316.3 K</text>
<text transform="translate(1689.41 916.60) scale(0.9536 1)" font-size="42.22" font-style="italic" stroke="#000" stroke-width="0.35" stroke-linejoin="round">T</text>
<text transform="translate(1712.96 922.20) scale(1.0508 1)" font-size="24.98" stroke="#000" stroke-width="0.45" stroke-linejoin="round">ave</text>
<text transform="translate(1768.06 914.22) scale(1.1634 1)" font-size="36.38" stroke="#000" stroke-width="0.35" stroke-linejoin="round">=</text>
<text transform="translate(1740.45 966.53) scale(0.9975 1)" font-size="41.53" text-anchor="middle" stroke="#000" stroke-width="0.35" stroke-linejoin="round">332.1 K</text>
<text transform="translate(1979.70 212.45) scale(1.1500 1)" font-size="47.30" stroke="#000" stroke-width="1.00" stroke-linejoin="round">5</text>
<text transform="translate(1980.00 344.19) scale(1.1500 1)" font-size="47.30" stroke="#000" stroke-width="1.00" stroke-linejoin="round">4</text>
<text transform="translate(1979.70 475.94) scale(1.1500 1)" font-size="47.30" stroke="#000" stroke-width="1.00" stroke-linejoin="round">3</text>
<text transform="translate(1979.70 607.68) scale(1.1500 1)" font-size="47.30" stroke="#000" stroke-width="1.00" stroke-linejoin="round">2</text>
<text transform="translate(1979.70 739.42) scale(1.0600 1)" font-size="47.30" stroke="#000" stroke-width="1.00" stroke-linejoin="round">1</text>
<text transform="translate(1979.70 871.16) scale(1.1500 1)" font-size="47.30" stroke="#000" stroke-width="1.00" stroke-linejoin="round">0</text>
<text transform="translate(1979.70 1002.91) scale(1.0600 1)" font-size="47.30" stroke="#000" stroke-width="1.00" stroke-linejoin="round">-1</text>
<text transform="translate(1979.70 1134.65) scale(1.1500 1)" font-size="47.30" stroke="#000" stroke-width="1.00" stroke-linejoin="round">-2</text>
<text transform="translate(1799.24 147.37) scale(0.9379 1)" font-size="47.02" font-style="italic" stroke="#000" stroke-width="0.35" stroke-linejoin="round">T</text>
<text transform="translate(1824.44 154.45) scale(1.0084 1)" font-size="30.07" stroke="#000" stroke-width="0.45" stroke-linejoin="round">surf</text>
<text transform="translate(1888.41 147.87) scale(1.0904 1)" font-size="46.00" stroke="#000" stroke-width="0.90" stroke-linejoin="round">–</text>
<text transform="translate(1925.82 147.42) scale(0.9377 1)" font-size="47.02" font-style="italic" stroke="#000" stroke-width="0.35" stroke-linejoin="round">T</text>
<text transform="translate(1951.75 153.81) scale(1.0442 1)" font-size="28.72" stroke="#000" stroke-width="0.45" stroke-linejoin="round">ave</text>
<text transform="translate(2010.80 147.90)" font-size="46.30" stroke="#000" stroke-width="0.35" stroke-linejoin="round">[K]</text>
</g>
<g id="colorbar">
<rect x="1890.75" y="195.85" width="60.2" height="922.2" fill="url(#cb)" stroke="#000" stroke-width="3.5"/>
<path d="M1890.75 327.59h12.4M1950.95 327.59h-12.4M1890.75 459.34h12.4M1950.95 459.34h-12.4M1890.75 591.08h12.4M1950.95 591.08h-12.4M1890.75 722.82h12.4M1950.95 722.82h-12.4M1890.75 854.56h12.4M1950.95 854.56h-12.4M1890.75 986.31h12.4M1950.95 986.31h-12.4" stroke="#000" stroke-width="3" fill="none"/>
</g>
</svg>
</body>
</html>
